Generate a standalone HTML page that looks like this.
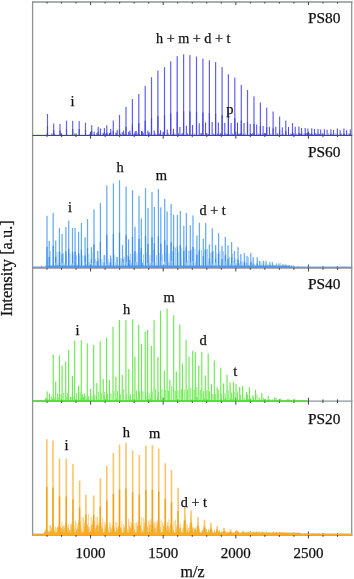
<!DOCTYPE html>
<html><head><meta charset="utf-8"><style>
html,body{margin:0;padding:0;background:#fff;}
svg{display:block;}
text{font-family:"Liberation Serif",serif;fill:#111;stroke:#111;stroke-width:0.25px;}
</style></head><body>
<svg width="354" height="579" viewBox="0 0 354 579">
<rect width="354" height="579" fill="#fff"/>
<g>
<line x1="32" y1="2.00" x2="352.5" y2="2.00" stroke="#8c9496" stroke-width="1.3"/>
<line x1="32" y1="135.30" x2="352.5" y2="135.30" stroke="#8c9496" stroke-width="1.3"/>
<line x1="32" y1="268.00" x2="352.5" y2="268.00" stroke="#8c9496" stroke-width="1.3"/>
<line x1="32" y1="401.20" x2="352.5" y2="401.20" stroke="#8c9496" stroke-width="1.3"/>
<line x1="32" y1="535.00" x2="352.5" y2="535.00" stroke="#8c9496" stroke-width="1.3"/>
<line x1="32.6" y1="1.4" x2="32.6" y2="535.6" stroke="#8c9496" stroke-width="1.3"/>
<line x1="351.7" y1="1.4" x2="351.7" y2="535.6" stroke="#8c9496" stroke-width="1.3"/>
<line x1="47.02" y1="2.00" x2="47.02" y2="3.60" stroke="#3c4450" stroke-width="1"/>
<line x1="47.02" y1="133.50" x2="47.02" y2="137.10" stroke="#3c4450" stroke-width="1"/>
<line x1="47.02" y1="266.20" x2="47.02" y2="269.80" stroke="#3c4450" stroke-width="1"/>
<line x1="47.02" y1="399.40" x2="47.02" y2="403.00" stroke="#3c4450" stroke-width="1"/>
<line x1="47.02" y1="533.20" x2="47.02" y2="536.80" stroke="#3c4450" stroke-width="1"/>
<line x1="61.55" y1="2.00" x2="61.55" y2="3.60" stroke="#3c4450" stroke-width="1"/>
<line x1="61.55" y1="133.50" x2="61.55" y2="137.10" stroke="#3c4450" stroke-width="1"/>
<line x1="61.55" y1="266.20" x2="61.55" y2="269.80" stroke="#3c4450" stroke-width="1"/>
<line x1="61.55" y1="399.40" x2="61.55" y2="403.00" stroke="#3c4450" stroke-width="1"/>
<line x1="61.55" y1="533.20" x2="61.55" y2="536.80" stroke="#3c4450" stroke-width="1"/>
<line x1="76.07" y1="2.00" x2="76.07" y2="3.60" stroke="#3c4450" stroke-width="1"/>
<line x1="76.07" y1="133.50" x2="76.07" y2="137.10" stroke="#3c4450" stroke-width="1"/>
<line x1="76.07" y1="266.20" x2="76.07" y2="269.80" stroke="#3c4450" stroke-width="1"/>
<line x1="76.07" y1="399.40" x2="76.07" y2="403.00" stroke="#3c4450" stroke-width="1"/>
<line x1="76.07" y1="533.20" x2="76.07" y2="536.80" stroke="#3c4450" stroke-width="1"/>
<line x1="90.59" y1="2.00" x2="90.59" y2="5.00" stroke="#3c4450" stroke-width="1"/>
<line x1="90.59" y1="131.80" x2="90.59" y2="138.80" stroke="#3c4450" stroke-width="1"/>
<line x1="90.59" y1="264.50" x2="90.59" y2="271.50" stroke="#3c4450" stroke-width="1"/>
<line x1="90.59" y1="397.70" x2="90.59" y2="404.70" stroke="#3c4450" stroke-width="1"/>
<line x1="90.59" y1="531.50" x2="90.59" y2="538.50" stroke="#3c4450" stroke-width="1"/>
<line x1="105.11" y1="2.00" x2="105.11" y2="3.60" stroke="#3c4450" stroke-width="1"/>
<line x1="105.11" y1="133.50" x2="105.11" y2="137.10" stroke="#3c4450" stroke-width="1"/>
<line x1="105.11" y1="266.20" x2="105.11" y2="269.80" stroke="#3c4450" stroke-width="1"/>
<line x1="105.11" y1="399.40" x2="105.11" y2="403.00" stroke="#3c4450" stroke-width="1"/>
<line x1="105.11" y1="533.20" x2="105.11" y2="536.80" stroke="#3c4450" stroke-width="1"/>
<line x1="119.64" y1="2.00" x2="119.64" y2="3.60" stroke="#3c4450" stroke-width="1"/>
<line x1="119.64" y1="133.50" x2="119.64" y2="137.10" stroke="#3c4450" stroke-width="1"/>
<line x1="119.64" y1="266.20" x2="119.64" y2="269.80" stroke="#3c4450" stroke-width="1"/>
<line x1="119.64" y1="399.40" x2="119.64" y2="403.00" stroke="#3c4450" stroke-width="1"/>
<line x1="119.64" y1="533.20" x2="119.64" y2="536.80" stroke="#3c4450" stroke-width="1"/>
<line x1="134.16" y1="2.00" x2="134.16" y2="3.60" stroke="#3c4450" stroke-width="1"/>
<line x1="134.16" y1="133.50" x2="134.16" y2="137.10" stroke="#3c4450" stroke-width="1"/>
<line x1="134.16" y1="266.20" x2="134.16" y2="269.80" stroke="#3c4450" stroke-width="1"/>
<line x1="134.16" y1="399.40" x2="134.16" y2="403.00" stroke="#3c4450" stroke-width="1"/>
<line x1="134.16" y1="533.20" x2="134.16" y2="536.80" stroke="#3c4450" stroke-width="1"/>
<line x1="148.68" y1="2.00" x2="148.68" y2="3.60" stroke="#3c4450" stroke-width="1"/>
<line x1="148.68" y1="133.50" x2="148.68" y2="137.10" stroke="#3c4450" stroke-width="1"/>
<line x1="148.68" y1="266.20" x2="148.68" y2="269.80" stroke="#3c4450" stroke-width="1"/>
<line x1="148.68" y1="399.40" x2="148.68" y2="403.00" stroke="#3c4450" stroke-width="1"/>
<line x1="148.68" y1="533.20" x2="148.68" y2="536.80" stroke="#3c4450" stroke-width="1"/>
<line x1="163.20" y1="2.00" x2="163.20" y2="5.00" stroke="#3c4450" stroke-width="1"/>
<line x1="163.20" y1="131.80" x2="163.20" y2="138.80" stroke="#3c4450" stroke-width="1"/>
<line x1="163.20" y1="264.50" x2="163.20" y2="271.50" stroke="#3c4450" stroke-width="1"/>
<line x1="163.20" y1="397.70" x2="163.20" y2="404.70" stroke="#3c4450" stroke-width="1"/>
<line x1="163.20" y1="531.50" x2="163.20" y2="538.50" stroke="#3c4450" stroke-width="1"/>
<line x1="177.73" y1="2.00" x2="177.73" y2="3.60" stroke="#3c4450" stroke-width="1"/>
<line x1="177.73" y1="133.50" x2="177.73" y2="137.10" stroke="#3c4450" stroke-width="1"/>
<line x1="177.73" y1="266.20" x2="177.73" y2="269.80" stroke="#3c4450" stroke-width="1"/>
<line x1="177.73" y1="399.40" x2="177.73" y2="403.00" stroke="#3c4450" stroke-width="1"/>
<line x1="177.73" y1="533.20" x2="177.73" y2="536.80" stroke="#3c4450" stroke-width="1"/>
<line x1="192.25" y1="2.00" x2="192.25" y2="3.60" stroke="#3c4450" stroke-width="1"/>
<line x1="192.25" y1="133.50" x2="192.25" y2="137.10" stroke="#3c4450" stroke-width="1"/>
<line x1="192.25" y1="266.20" x2="192.25" y2="269.80" stroke="#3c4450" stroke-width="1"/>
<line x1="192.25" y1="399.40" x2="192.25" y2="403.00" stroke="#3c4450" stroke-width="1"/>
<line x1="192.25" y1="533.20" x2="192.25" y2="536.80" stroke="#3c4450" stroke-width="1"/>
<line x1="206.77" y1="2.00" x2="206.77" y2="3.60" stroke="#3c4450" stroke-width="1"/>
<line x1="206.77" y1="133.50" x2="206.77" y2="137.10" stroke="#3c4450" stroke-width="1"/>
<line x1="206.77" y1="266.20" x2="206.77" y2="269.80" stroke="#3c4450" stroke-width="1"/>
<line x1="206.77" y1="399.40" x2="206.77" y2="403.00" stroke="#3c4450" stroke-width="1"/>
<line x1="206.77" y1="533.20" x2="206.77" y2="536.80" stroke="#3c4450" stroke-width="1"/>
<line x1="221.30" y1="2.00" x2="221.30" y2="3.60" stroke="#3c4450" stroke-width="1"/>
<line x1="221.30" y1="133.50" x2="221.30" y2="137.10" stroke="#3c4450" stroke-width="1"/>
<line x1="221.30" y1="266.20" x2="221.30" y2="269.80" stroke="#3c4450" stroke-width="1"/>
<line x1="221.30" y1="399.40" x2="221.30" y2="403.00" stroke="#3c4450" stroke-width="1"/>
<line x1="221.30" y1="533.20" x2="221.30" y2="536.80" stroke="#3c4450" stroke-width="1"/>
<line x1="235.82" y1="2.00" x2="235.82" y2="5.00" stroke="#3c4450" stroke-width="1"/>
<line x1="235.82" y1="131.80" x2="235.82" y2="138.80" stroke="#3c4450" stroke-width="1"/>
<line x1="235.82" y1="264.50" x2="235.82" y2="271.50" stroke="#3c4450" stroke-width="1"/>
<line x1="235.82" y1="397.70" x2="235.82" y2="404.70" stroke="#3c4450" stroke-width="1"/>
<line x1="235.82" y1="531.50" x2="235.82" y2="538.50" stroke="#3c4450" stroke-width="1"/>
<line x1="250.34" y1="2.00" x2="250.34" y2="3.60" stroke="#3c4450" stroke-width="1"/>
<line x1="250.34" y1="133.50" x2="250.34" y2="137.10" stroke="#3c4450" stroke-width="1"/>
<line x1="250.34" y1="266.20" x2="250.34" y2="269.80" stroke="#3c4450" stroke-width="1"/>
<line x1="250.34" y1="399.40" x2="250.34" y2="403.00" stroke="#3c4450" stroke-width="1"/>
<line x1="250.34" y1="533.20" x2="250.34" y2="536.80" stroke="#3c4450" stroke-width="1"/>
<line x1="264.86" y1="2.00" x2="264.86" y2="3.60" stroke="#3c4450" stroke-width="1"/>
<line x1="264.86" y1="133.50" x2="264.86" y2="137.10" stroke="#3c4450" stroke-width="1"/>
<line x1="264.86" y1="266.20" x2="264.86" y2="269.80" stroke="#3c4450" stroke-width="1"/>
<line x1="264.86" y1="399.40" x2="264.86" y2="403.00" stroke="#3c4450" stroke-width="1"/>
<line x1="264.86" y1="533.20" x2="264.86" y2="536.80" stroke="#3c4450" stroke-width="1"/>
<line x1="279.39" y1="2.00" x2="279.39" y2="3.60" stroke="#3c4450" stroke-width="1"/>
<line x1="279.39" y1="133.50" x2="279.39" y2="137.10" stroke="#3c4450" stroke-width="1"/>
<line x1="279.39" y1="266.20" x2="279.39" y2="269.80" stroke="#3c4450" stroke-width="1"/>
<line x1="279.39" y1="399.40" x2="279.39" y2="403.00" stroke="#3c4450" stroke-width="1"/>
<line x1="279.39" y1="533.20" x2="279.39" y2="536.80" stroke="#3c4450" stroke-width="1"/>
<line x1="293.91" y1="2.00" x2="293.91" y2="3.60" stroke="#3c4450" stroke-width="1"/>
<line x1="293.91" y1="133.50" x2="293.91" y2="137.10" stroke="#3c4450" stroke-width="1"/>
<line x1="293.91" y1="266.20" x2="293.91" y2="269.80" stroke="#3c4450" stroke-width="1"/>
<line x1="293.91" y1="399.40" x2="293.91" y2="403.00" stroke="#3c4450" stroke-width="1"/>
<line x1="293.91" y1="533.20" x2="293.91" y2="536.80" stroke="#3c4450" stroke-width="1"/>
<line x1="308.43" y1="2.00" x2="308.43" y2="5.00" stroke="#3c4450" stroke-width="1"/>
<line x1="308.43" y1="131.80" x2="308.43" y2="138.80" stroke="#3c4450" stroke-width="1"/>
<line x1="308.43" y1="264.50" x2="308.43" y2="271.50" stroke="#3c4450" stroke-width="1"/>
<line x1="308.43" y1="397.70" x2="308.43" y2="404.70" stroke="#3c4450" stroke-width="1"/>
<line x1="308.43" y1="531.50" x2="308.43" y2="538.50" stroke="#3c4450" stroke-width="1"/>
<line x1="322.95" y1="2.00" x2="322.95" y2="3.60" stroke="#3c4450" stroke-width="1"/>
<line x1="322.95" y1="133.50" x2="322.95" y2="137.10" stroke="#3c4450" stroke-width="1"/>
<line x1="322.95" y1="266.20" x2="322.95" y2="269.80" stroke="#3c4450" stroke-width="1"/>
<line x1="322.95" y1="399.40" x2="322.95" y2="403.00" stroke="#3c4450" stroke-width="1"/>
<line x1="322.95" y1="533.20" x2="322.95" y2="536.80" stroke="#3c4450" stroke-width="1"/>
<line x1="337.48" y1="2.00" x2="337.48" y2="3.60" stroke="#3c4450" stroke-width="1"/>
<line x1="337.48" y1="133.50" x2="337.48" y2="137.10" stroke="#3c4450" stroke-width="1"/>
<line x1="337.48" y1="266.20" x2="337.48" y2="269.80" stroke="#3c4450" stroke-width="1"/>
<line x1="337.48" y1="399.40" x2="337.48" y2="403.00" stroke="#3c4450" stroke-width="1"/>
<line x1="337.48" y1="533.20" x2="337.48" y2="536.80" stroke="#3c4450" stroke-width="1"/>
</g>
<g>
<rect x="46.92" y="114.00" width="1.15" height="21.60" fill="#6262f0"/>
<rect x="46.95" y="125.88" width="1.10" height="9.72" fill="#4444ec"/>
<rect x="53.12" y="123.40" width="1.15" height="12.20" fill="#6262f0"/>
<rect x="53.15" y="130.11" width="1.10" height="5.49" fill="#4444ec"/>
<rect x="59.42" y="123.90" width="1.15" height="11.70" fill="#6262f0"/>
<rect x="59.45" y="130.34" width="1.10" height="5.26" fill="#4444ec"/>
<rect x="65.92" y="120.60" width="1.15" height="15.00" fill="#6262f0"/>
<rect x="65.95" y="128.85" width="1.10" height="6.75" fill="#4444ec"/>
<rect x="72.12" y="120.80" width="1.15" height="14.80" fill="#6262f0"/>
<rect x="72.15" y="128.94" width="1.10" height="6.66" fill="#4444ec"/>
<rect x="78.62" y="121.20" width="1.15" height="14.40" fill="#6262f0"/>
<rect x="78.65" y="129.12" width="1.10" height="6.48" fill="#4444ec"/>
<rect x="84.92" y="122.70" width="1.15" height="12.90" fill="#6262f0"/>
<rect x="84.95" y="129.79" width="1.10" height="5.81" fill="#4444ec"/>
<rect x="91.12" y="125.10" width="1.15" height="10.50" fill="#6262f0"/>
<rect x="91.15" y="130.88" width="1.10" height="4.72" fill="#4444ec"/>
<rect x="97.62" y="126.80" width="1.15" height="8.80" fill="#6262f0"/>
<rect x="97.65" y="131.64" width="1.10" height="3.96" fill="#4444ec"/>
<rect x="103.83" y="128.00" width="1.15" height="7.60" fill="#6262f0"/>
<rect x="103.85" y="132.18" width="1.10" height="3.42" fill="#4444ec"/>
<rect x="110.12" y="129.00" width="1.15" height="6.60" fill="#6262f0"/>
<rect x="110.15" y="132.63" width="1.10" height="2.97" fill="#4444ec"/>
<rect x="116.62" y="129.80" width="1.15" height="5.80" fill="#6262f0"/>
<rect x="116.65" y="132.99" width="1.10" height="2.61" fill="#4444ec"/>
<rect x="122.92" y="130.50" width="1.15" height="5.10" fill="#6262f0"/>
<rect x="122.95" y="133.31" width="1.10" height="2.29" fill="#4444ec"/>
<rect x="129.33" y="130.50" width="1.15" height="5.10" fill="#6262f0"/>
<rect x="129.35" y="133.31" width="1.10" height="2.29" fill="#4444ec"/>
<rect x="135.62" y="130.90" width="1.15" height="4.70" fill="#6262f0"/>
<rect x="135.65" y="133.49" width="1.10" height="2.11" fill="#4444ec"/>
<rect x="142.03" y="131.50" width="1.15" height="4.10" fill="#6262f0"/>
<rect x="142.05" y="133.75" width="1.10" height="1.84" fill="#4444ec"/>
<rect x="148.43" y="132.00" width="1.15" height="3.60" fill="#6262f0"/>
<rect x="148.45" y="133.98" width="1.10" height="1.62" fill="#4444ec"/>
<rect x="93.60" y="131.60" width="1.20" height="4.00" fill="#6262f0"/>
<rect x="93.62" y="134.40" width="1.15" height="1.20" fill="#4444ec"/>
<rect x="99.80" y="128.40" width="1.20" height="7.20" fill="#6262f0"/>
<rect x="99.83" y="133.44" width="1.15" height="2.16" fill="#4444ec"/>
<rect x="106.20" y="125.30" width="1.20" height="10.30" fill="#6262f0"/>
<rect x="106.22" y="132.51" width="1.15" height="3.09" fill="#4444ec"/>
<rect x="112.70" y="120.50" width="1.20" height="15.10" fill="#6262f0"/>
<rect x="112.72" y="131.07" width="1.15" height="4.53" fill="#4444ec"/>
<rect x="118.90" y="114.90" width="1.20" height="20.70" fill="#6262f0"/>
<rect x="118.92" y="129.39" width="1.15" height="6.21" fill="#4444ec"/>
<rect x="125.40" y="107.00" width="1.20" height="28.60" fill="#6262f0"/>
<rect x="125.42" y="127.02" width="1.15" height="8.58" fill="#4444ec"/>
<rect x="131.80" y="99.00" width="1.20" height="36.60" fill="#6262f0"/>
<rect x="131.83" y="124.62" width="1.15" height="10.98" fill="#4444ec"/>
<rect x="138.20" y="94.00" width="1.20" height="41.60" fill="#6262f0"/>
<rect x="138.23" y="123.12" width="1.15" height="12.48" fill="#4444ec"/>
<rect x="144.60" y="85.90" width="1.20" height="49.70" fill="#6262f0"/>
<rect x="144.62" y="120.69" width="1.15" height="14.91" fill="#4444ec"/>
<rect x="150.90" y="77.20" width="1.20" height="58.40" fill="#6262f0"/>
<rect x="150.93" y="118.08" width="1.15" height="17.52" fill="#4444ec"/>
<rect x="157.30" y="70.60" width="1.20" height="65.00" fill="#6262f0"/>
<rect x="157.33" y="116.10" width="1.15" height="19.50" fill="#4444ec"/>
<rect x="163.90" y="67.10" width="1.20" height="68.50" fill="#6262f0"/>
<rect x="163.93" y="115.05" width="1.15" height="20.55" fill="#4444ec"/>
<rect x="170.10" y="61.40" width="1.20" height="74.20" fill="#6262f0"/>
<rect x="170.12" y="113.34" width="1.15" height="22.26" fill="#4444ec"/>
<rect x="176.60" y="56.10" width="1.20" height="79.50" fill="#6262f0"/>
<rect x="176.62" y="111.75" width="1.15" height="23.85" fill="#4444ec"/>
<rect x="183.00" y="54.40" width="1.20" height="81.20" fill="#6262f0"/>
<rect x="183.03" y="111.24" width="1.15" height="24.36" fill="#4444ec"/>
<rect x="189.30" y="55.10" width="1.20" height="80.50" fill="#6262f0"/>
<rect x="189.33" y="111.45" width="1.15" height="24.15" fill="#4444ec"/>
<rect x="195.90" y="56.50" width="1.20" height="79.10" fill="#6262f0"/>
<rect x="195.93" y="111.87" width="1.15" height="23.73" fill="#4444ec"/>
<rect x="202.30" y="58.60" width="1.20" height="77.00" fill="#6262f0"/>
<rect x="202.33" y="112.50" width="1.15" height="23.10" fill="#4444ec"/>
<rect x="208.80" y="60.30" width="1.20" height="75.30" fill="#6262f0"/>
<rect x="208.83" y="113.01" width="1.15" height="22.59" fill="#4444ec"/>
<rect x="215.00" y="62.10" width="1.20" height="73.50" fill="#6262f0"/>
<rect x="215.03" y="113.55" width="1.15" height="22.05" fill="#4444ec"/>
<rect x="221.50" y="67.10" width="1.20" height="68.50" fill="#6262f0"/>
<rect x="221.53" y="115.05" width="1.15" height="20.55" fill="#4444ec"/>
<rect x="227.80" y="74.20" width="1.20" height="61.40" fill="#6262f0"/>
<rect x="227.83" y="117.18" width="1.15" height="18.42" fill="#4444ec"/>
<rect x="234.20" y="77.60" width="1.20" height="58.00" fill="#6262f0"/>
<rect x="234.23" y="118.20" width="1.15" height="17.40" fill="#4444ec"/>
<rect x="240.70" y="84.90" width="1.20" height="50.70" fill="#6262f0"/>
<rect x="240.73" y="120.39" width="1.15" height="15.21" fill="#4444ec"/>
<rect x="246.90" y="90.00" width="1.20" height="45.60" fill="#6262f0"/>
<rect x="246.93" y="121.92" width="1.15" height="13.68" fill="#4444ec"/>
<rect x="253.40" y="96.30" width="1.20" height="39.30" fill="#6262f0"/>
<rect x="253.43" y="123.81" width="1.15" height="11.79" fill="#4444ec"/>
<rect x="259.80" y="102.50" width="1.20" height="33.10" fill="#6262f0"/>
<rect x="259.82" y="125.67" width="1.15" height="9.93" fill="#4444ec"/>
<rect x="266.10" y="107.60" width="1.20" height="28.00" fill="#6262f0"/>
<rect x="266.12" y="127.20" width="1.15" height="8.40" fill="#4444ec"/>
<rect x="272.50" y="111.50" width="1.20" height="24.10" fill="#6262f0"/>
<rect x="272.53" y="128.37" width="1.15" height="7.23" fill="#4444ec"/>
<rect x="279.00" y="116.60" width="1.20" height="19.00" fill="#6262f0"/>
<rect x="279.03" y="129.90" width="1.15" height="5.70" fill="#4444ec"/>
<rect x="285.20" y="120.60" width="1.20" height="15.00" fill="#6262f0"/>
<rect x="285.23" y="131.10" width="1.15" height="4.50" fill="#4444ec"/>
<rect x="291.90" y="123.10" width="1.20" height="12.50" fill="#6262f0"/>
<rect x="291.93" y="131.85" width="1.15" height="3.75" fill="#4444ec"/>
<rect x="298.30" y="126.50" width="1.20" height="9.10" fill="#6262f0"/>
<rect x="298.32" y="132.87" width="1.15" height="2.73" fill="#4444ec"/>
<rect x="304.60" y="128.00" width="1.20" height="7.60" fill="#6262f0"/>
<rect x="304.62" y="133.32" width="1.15" height="2.28" fill="#4444ec"/>
<rect x="311.10" y="128.30" width="1.20" height="7.30" fill="#6262f0"/>
<rect x="311.12" y="133.41" width="1.15" height="2.19" fill="#4444ec"/>
<rect x="317.40" y="129.00" width="1.20" height="6.60" fill="#6262f0"/>
<rect x="317.43" y="133.62" width="1.15" height="1.98" fill="#4444ec"/>
<rect x="323.80" y="129.30" width="1.20" height="6.30" fill="#6262f0"/>
<rect x="323.82" y="133.71" width="1.15" height="1.89" fill="#4444ec"/>
<rect x="330.30" y="129.30" width="1.20" height="6.30" fill="#6262f0"/>
<rect x="330.32" y="133.71" width="1.15" height="1.89" fill="#4444ec"/>
<rect x="336.80" y="128.50" width="1.20" height="7.10" fill="#6262f0"/>
<rect x="336.82" y="133.47" width="1.15" height="2.13" fill="#4444ec"/>
<rect x="343.30" y="128.50" width="1.20" height="7.10" fill="#6262f0"/>
<rect x="343.32" y="133.47" width="1.15" height="2.13" fill="#4444ec"/>
<rect x="349.70" y="129.50" width="1.20" height="6.10" fill="#6262f0"/>
<rect x="349.73" y="133.77" width="1.15" height="1.83" fill="#4444ec"/>
<rect x="96.40" y="133.00" width="1.00" height="2.60" fill="#4444ec"/>
<rect x="102.60" y="133.00" width="1.00" height="2.60" fill="#4444ec"/>
<rect x="109.00" y="133.00" width="1.00" height="2.60" fill="#4444ec"/>
<rect x="115.50" y="132.60" width="1.00" height="3.00" fill="#4444ec"/>
<rect x="121.70" y="132.19" width="1.00" height="3.41" fill="#4444ec"/>
<rect x="128.20" y="131.75" width="1.00" height="3.85" fill="#4444ec"/>
<rect x="134.60" y="131.33" width="1.00" height="4.27" fill="#4444ec"/>
<rect x="141.00" y="130.95" width="1.00" height="4.65" fill="#4444ec"/>
<rect x="147.40" y="130.72" width="1.00" height="4.88" fill="#4444ec"/>
<rect x="153.70" y="130.50" width="1.00" height="5.10" fill="#4444ec"/>
<rect x="160.10" y="130.23" width="1.00" height="5.37" fill="#4444ec"/>
<rect x="166.70" y="129.48" width="1.00" height="6.12" fill="#4444ec"/>
<rect x="172.90" y="128.78" width="1.00" height="6.82" fill="#4444ec"/>
<rect x="179.40" y="126.90" width="1.00" height="8.70" fill="#4444ec"/>
<rect x="185.80" y="125.69" width="1.00" height="9.91" fill="#4444ec"/>
<rect x="192.10" y="125.00" width="1.00" height="10.60" fill="#4444ec"/>
<rect x="198.70" y="123.30" width="1.00" height="12.30" fill="#4444ec"/>
<rect x="205.10" y="122.51" width="1.00" height="13.09" fill="#4444ec"/>
<rect x="211.60" y="122.00" width="1.00" height="13.60" fill="#4444ec"/>
<rect x="217.80" y="122.47" width="1.00" height="13.13" fill="#4444ec"/>
<rect x="224.30" y="122.78" width="1.00" height="12.82" fill="#4444ec"/>
<rect x="230.60" y="122.89" width="1.00" height="12.71" fill="#4444ec"/>
<rect x="237.00" y="122.50" width="1.00" height="13.10" fill="#4444ec"/>
<rect x="243.50" y="123.00" width="1.00" height="12.60" fill="#4444ec"/>
<rect x="249.70" y="123.87" width="1.00" height="11.73" fill="#4444ec"/>
<rect x="256.20" y="124.59" width="1.00" height="11.01" fill="#4444ec"/>
<rect x="262.60" y="126.01" width="1.00" height="9.59" fill="#4444ec"/>
<rect x="268.90" y="126.80" width="1.00" height="8.80" fill="#4444ec"/>
<rect x="275.30" y="126.80" width="1.00" height="8.80" fill="#4444ec"/>
<rect x="281.80" y="127.30" width="1.00" height="8.30" fill="#4444ec"/>
<rect x="288.00" y="127.00" width="1.00" height="8.60" fill="#4444ec"/>
<rect x="294.70" y="126.76" width="1.00" height="8.84" fill="#4444ec"/>
<rect x="301.10" y="128.03" width="1.00" height="7.57" fill="#4444ec"/>
<rect x="307.40" y="128.53" width="1.00" height="7.07" fill="#4444ec"/>
<rect x="313.90" y="129.05" width="1.00" height="6.55" fill="#4444ec"/>
<rect x="320.20" y="129.52" width="1.00" height="6.08" fill="#4444ec"/>
<rect x="326.60" y="129.72" width="1.00" height="5.88" fill="#4444ec"/>
<rect x="333.10" y="129.93" width="1.00" height="5.67" fill="#4444ec"/>
<rect x="339.60" y="130.13" width="1.00" height="5.47" fill="#4444ec"/>
<rect x="346.10" y="130.33" width="1.00" height="5.27" fill="#4444ec"/>
<rect x="104.10" y="133.40" width="1.00" height="2.20" fill="#8a8af4"/>
<rect x="110.60" y="133.40" width="1.00" height="2.20" fill="#8a8af4"/>
<rect x="116.80" y="133.40" width="1.00" height="2.20" fill="#8a8af4"/>
<rect x="123.30" y="133.40" width="1.00" height="2.20" fill="#8a8af4"/>
<rect x="129.70" y="133.40" width="1.00" height="2.20" fill="#8a8af4"/>
<rect x="136.10" y="133.40" width="1.00" height="2.20" fill="#8a8af4"/>
<rect x="142.50" y="133.40" width="1.00" height="2.20" fill="#8a8af4"/>
<rect x="148.80" y="133.40" width="1.00" height="2.20" fill="#8a8af4"/>
<rect x="155.20" y="133.40" width="1.00" height="2.20" fill="#8a8af4"/>
<rect x="161.80" y="133.40" width="1.00" height="2.20" fill="#8a8af4"/>
<rect x="168.00" y="133.40" width="1.00" height="2.20" fill="#8a8af4"/>
<rect x="174.50" y="133.40" width="1.00" height="2.20" fill="#8a8af4"/>
<rect x="180.90" y="133.40" width="1.00" height="2.20" fill="#8a8af4"/>
<rect x="187.20" y="133.40" width="1.00" height="2.20" fill="#8a8af4"/>
<rect x="193.80" y="133.40" width="1.00" height="2.20" fill="#8a8af4"/>
<rect x="200.20" y="133.40" width="1.00" height="2.20" fill="#8a8af4"/>
<rect x="206.70" y="133.40" width="1.00" height="2.20" fill="#8a8af4"/>
<rect x="212.90" y="133.40" width="1.00" height="2.20" fill="#8a8af4"/>
<rect x="219.40" y="133.40" width="1.00" height="2.20" fill="#8a8af4"/>
<rect x="225.70" y="133.40" width="1.00" height="2.20" fill="#8a8af4"/>
<rect x="232.10" y="133.40" width="1.00" height="2.20" fill="#8a8af4"/>
<rect x="238.60" y="133.40" width="1.00" height="2.20" fill="#8a8af4"/>
<rect x="244.80" y="133.40" width="1.00" height="2.20" fill="#8a8af4"/>
<rect x="251.30" y="133.40" width="1.00" height="2.20" fill="#8a8af4"/>
<rect x="257.70" y="133.40" width="1.00" height="2.20" fill="#8a8af4"/>
<rect x="264.00" y="133.40" width="1.00" height="2.20" fill="#8a8af4"/>
<rect x="270.40" y="133.40" width="1.00" height="2.20" fill="#8a8af4"/>
<rect x="276.90" y="133.40" width="1.00" height="2.20" fill="#8a8af4"/>
<rect x="283.10" y="133.40" width="1.00" height="2.20" fill="#8a8af4"/>
<rect x="289.80" y="133.40" width="1.00" height="2.20" fill="#8a8af4"/>
<rect x="296.20" y="133.40" width="1.00" height="2.20" fill="#8a8af4"/>
<rect x="302.50" y="133.40" width="1.00" height="2.20" fill="#8a8af4"/>
<rect x="309.00" y="133.40" width="1.00" height="2.20" fill="#8a8af4"/>
<rect x="315.30" y="133.40" width="1.00" height="2.20" fill="#8a8af4"/>
<rect x="321.70" y="133.40" width="1.00" height="2.20" fill="#8a8af4"/>
<rect x="328.20" y="133.40" width="1.00" height="2.20" fill="#8a8af4"/>
<rect x="334.70" y="133.40" width="1.00" height="2.20" fill="#8a8af4"/>
<rect x="341.20" y="133.40" width="1.00" height="2.20" fill="#8a8af4"/>
<rect x="347.60" y="133.40" width="1.00" height="2.20" fill="#8a8af4"/>
<rect x="119.70" y="133.64" width="0.80" height="1.96" fill="#4444ec"/>
<rect x="159.70" y="133.55" width="0.80" height="2.05" fill="#4444ec"/>
<rect x="237.19" y="134.31" width="0.80" height="1.29" fill="#4444ec"/>
<rect x="51.59" y="133.23" width="0.80" height="2.37" fill="#4444ec"/>
<rect x="126.18" y="134.07" width="0.80" height="1.53" fill="#4444ec"/>
<rect x="349.28" y="133.74" width="0.80" height="1.86" fill="#4444ec"/>
<rect x="301.05" y="133.73" width="0.80" height="1.87" fill="#4444ec"/>
<rect x="241.24" y="134.19" width="0.80" height="1.41" fill="#4444ec"/>
<rect x="239.96" y="133.18" width="0.80" height="2.42" fill="#4444ec"/>
<rect x="206.12" y="133.36" width="0.80" height="2.24" fill="#4444ec"/>
<rect x="251.04" y="134.31" width="0.80" height="1.29" fill="#4444ec"/>
<rect x="277.34" y="133.57" width="0.80" height="2.03" fill="#4444ec"/>
<rect x="138.88" y="134.36" width="0.80" height="1.24" fill="#4444ec"/>
<rect x="309.85" y="133.74" width="0.80" height="1.86" fill="#4444ec"/>
<rect x="265.40" y="133.17" width="0.80" height="2.43" fill="#4444ec"/>
<rect x="263.98" y="133.11" width="0.80" height="2.49" fill="#4444ec"/>
<rect x="167.27" y="133.28" width="0.80" height="2.32" fill="#4444ec"/>
<rect x="182.32" y="133.09" width="0.80" height="2.51" fill="#4444ec"/>
<rect x="313.90" y="134.26" width="0.80" height="1.34" fill="#4444ec"/>
<rect x="88.80" y="134.10" width="0.80" height="1.50" fill="#4444ec"/>
<rect x="340.14" y="133.79" width="0.80" height="1.81" fill="#4444ec"/>
<rect x="237.47" y="133.98" width="0.80" height="1.62" fill="#4444ec"/>
<rect x="201.29" y="133.86" width="0.80" height="1.74" fill="#4444ec"/>
<rect x="153.93" y="133.58" width="0.80" height="2.02" fill="#4444ec"/>
<rect x="224.63" y="133.13" width="0.80" height="2.47" fill="#4444ec"/>
<rect x="254.24" y="133.10" width="0.80" height="2.50" fill="#4444ec"/>
<rect x="307.09" y="133.01" width="0.80" height="2.59" fill="#4444ec"/>
<rect x="251.00" y="134.17" width="0.80" height="1.43" fill="#4444ec"/>
<rect x="308.37" y="133.05" width="0.80" height="2.55" fill="#4444ec"/>
<rect x="321.72" y="133.60" width="0.80" height="2.00" fill="#4444ec"/>
<rect x="263.89" y="134.10" width="0.80" height="1.50" fill="#4444ec"/>
<rect x="299.58" y="133.60" width="0.80" height="2.00" fill="#4444ec"/>
<rect x="133.94" y="134.31" width="0.80" height="1.29" fill="#4444ec"/>
<rect x="306.34" y="133.01" width="0.80" height="2.59" fill="#4444ec"/>
<rect x="74.42" y="133.28" width="0.80" height="2.32" fill="#4444ec"/>
<rect x="171.97" y="134.19" width="0.80" height="1.41" fill="#4444ec"/>
<rect x="136.65" y="133.32" width="0.80" height="2.28" fill="#4444ec"/>
<rect x="312.05" y="134.34" width="0.80" height="1.26" fill="#4444ec"/>
<rect x="233.80" y="134.34" width="0.80" height="1.26" fill="#4444ec"/>
<rect x="265.29" y="133.94" width="0.80" height="1.66" fill="#4444ec"/>
<rect x="314.51" y="133.03" width="0.80" height="2.57" fill="#4444ec"/>
<rect x="200.74" y="133.00" width="0.80" height="2.60" fill="#4444ec"/>
<rect x="141.43" y="134.29" width="0.80" height="1.31" fill="#4444ec"/>
<rect x="229.33" y="134.36" width="0.80" height="1.24" fill="#4444ec"/>
<rect x="107.41" y="133.83" width="0.80" height="1.77" fill="#4444ec"/>
<rect x="232.57" y="134.18" width="0.80" height="1.42" fill="#4444ec"/>
<rect x="60.46" y="133.19" width="0.80" height="2.41" fill="#4444ec"/>
<rect x="142.69" y="133.06" width="0.80" height="2.54" fill="#4444ec"/>
<rect x="319.29" y="133.87" width="0.80" height="1.73" fill="#4444ec"/>
<rect x="187.10" y="133.67" width="0.80" height="1.93" fill="#4444ec"/>
<rect x="242.70" y="133.57" width="0.80" height="2.03" fill="#4444ec"/>
<rect x="217.06" y="133.53" width="0.80" height="2.07" fill="#4444ec"/>
<rect x="332.61" y="133.69" width="0.80" height="1.91" fill="#4444ec"/>
<rect x="178.25" y="133.39" width="0.80" height="2.21" fill="#4444ec"/>
<rect x="119.60" y="133.98" width="0.80" height="1.62" fill="#4444ec"/>
<rect x="343.87" y="133.67" width="0.80" height="1.93" fill="#4444ec"/>
<rect x="213.77" y="134.38" width="0.80" height="1.22" fill="#4444ec"/>
<rect x="173.41" y="133.59" width="0.80" height="2.01" fill="#4444ec"/>
<rect x="53.68" y="133.54" width="0.80" height="2.06" fill="#4444ec"/>
<rect x="239.15" y="134.32" width="0.80" height="1.28" fill="#4444ec"/>
<rect x="237.68" y="133.75" width="0.80" height="1.85" fill="#4444ec"/>
<rect x="253.42" y="133.91" width="0.80" height="1.69" fill="#4444ec"/>
<rect x="261.81" y="133.37" width="0.80" height="2.23" fill="#4444ec"/>
<rect x="54.32" y="134.32" width="0.80" height="1.28" fill="#4444ec"/>
<rect x="252.43" y="133.05" width="0.80" height="2.55" fill="#4444ec"/>
<rect x="123.69" y="133.76" width="0.80" height="1.84" fill="#4444ec"/>
<rect x="227.18" y="133.95" width="0.80" height="1.65" fill="#4444ec"/>
<rect x="157.88" y="133.96" width="0.80" height="1.64" fill="#4444ec"/>
<rect x="159.45" y="133.57" width="0.80" height="2.03" fill="#4444ec"/>
<rect x="138.62" y="133.87" width="0.80" height="1.73" fill="#4444ec"/>
<rect x="281.60" y="134.36" width="0.80" height="1.24" fill="#4444ec"/>
<rect x="220.09" y="133.37" width="0.80" height="2.23" fill="#4444ec"/>
<rect x="141.54" y="134.09" width="0.80" height="1.51" fill="#4444ec"/>
<rect x="291.15" y="134.07" width="0.80" height="1.53" fill="#4444ec"/>
<rect x="104.38" y="133.79" width="0.80" height="1.81" fill="#4444ec"/>
<rect x="259.11" y="134.26" width="0.80" height="1.34" fill="#4444ec"/>
<rect x="145.16" y="133.93" width="0.80" height="1.67" fill="#4444ec"/>
<rect x="300.16" y="133.79" width="0.80" height="1.81" fill="#4444ec"/>
<rect x="306.83" y="134.16" width="0.80" height="1.44" fill="#4444ec"/>
<rect x="149.62" y="133.49" width="0.80" height="2.11" fill="#4444ec"/>
<rect x="315.72" y="133.77" width="0.80" height="1.83" fill="#4444ec"/>
<rect x="115.78" y="134.23" width="0.80" height="1.37" fill="#4444ec"/>
<rect x="208.08" y="134.13" width="0.80" height="1.47" fill="#4444ec"/>
<rect x="292.05" y="133.23" width="0.80" height="2.37" fill="#4444ec"/>
<rect x="103.23" y="134.01" width="0.80" height="1.59" fill="#4444ec"/>
<rect x="32.5" y="135.00" width="319.5" height="1.0" fill="#3838d8"/>
<rect x="46.75" y="259.68" width="0.90" height="7.92" fill="#9cc7f6"/>
<rect x="50.15" y="251.09" width="0.90" height="16.51" fill="#9cc7f6"/>
<rect x="53.25" y="253.32" width="0.90" height="14.28" fill="#9cc7f6"/>
<rect x="56.65" y="251.91" width="0.90" height="15.69" fill="#9cc7f6"/>
<rect x="59.65" y="251.79" width="0.90" height="15.81" fill="#9cc7f6"/>
<rect x="63.05" y="253.10" width="0.90" height="14.50" fill="#9cc7f6"/>
<rect x="66.25" y="256.43" width="0.90" height="11.17" fill="#9cc7f6"/>
<rect x="69.65" y="253.64" width="0.90" height="13.96" fill="#9cc7f6"/>
<rect x="72.65" y="254.39" width="0.90" height="13.21" fill="#9cc7f6"/>
<rect x="76.05" y="255.15" width="0.90" height="12.45" fill="#9cc7f6"/>
<rect x="78.95" y="255.46" width="0.90" height="12.14" fill="#9cc7f6"/>
<rect x="82.35" y="255.46" width="0.90" height="12.14" fill="#9cc7f6"/>
<rect x="85.05" y="258.52" width="0.90" height="9.08" fill="#9cc7f6"/>
<rect x="88.45" y="253.94" width="0.90" height="13.66" fill="#9cc7f6"/>
<rect x="91.55" y="253.03" width="0.90" height="14.57" fill="#9cc7f6"/>
<rect x="94.95" y="258.66" width="0.90" height="8.94" fill="#9cc7f6"/>
<rect x="97.95" y="258.28" width="0.90" height="9.32" fill="#9cc7f6"/>
<rect x="101.35" y="258.92" width="0.90" height="8.68" fill="#9cc7f6"/>
<rect x="104.35" y="255.61" width="0.90" height="11.99" fill="#9cc7f6"/>
<rect x="107.75" y="258.70" width="0.90" height="8.90" fill="#9cc7f6"/>
<rect x="110.95" y="258.56" width="0.90" height="9.04" fill="#9cc7f6"/>
<rect x="114.35" y="254.33" width="0.90" height="13.27" fill="#9cc7f6"/>
<rect x="117.05" y="257.47" width="0.90" height="10.13" fill="#9cc7f6"/>
<rect x="120.45" y="257.93" width="0.90" height="9.67" fill="#9cc7f6"/>
<rect x="123.65" y="256.57" width="0.90" height="11.03" fill="#9cc7f6"/>
<rect x="127.05" y="255.36" width="0.90" height="12.24" fill="#9cc7f6"/>
<rect x="130.05" y="253.68" width="0.90" height="13.92" fill="#9cc7f6"/>
<rect x="133.45" y="253.66" width="0.90" height="13.94" fill="#9cc7f6"/>
<rect x="136.55" y="252.66" width="0.90" height="14.94" fill="#9cc7f6"/>
<rect x="139.95" y="251.37" width="0.90" height="16.23" fill="#9cc7f6"/>
<rect x="143.05" y="254.18" width="0.90" height="13.42" fill="#9cc7f6"/>
<rect x="146.45" y="252.03" width="0.90" height="15.57" fill="#9cc7f6"/>
<rect x="149.55" y="254.86" width="0.90" height="12.74" fill="#9cc7f6"/>
<rect x="152.95" y="249.93" width="0.90" height="17.67" fill="#9cc7f6"/>
<rect x="155.95" y="254.78" width="0.90" height="12.82" fill="#9cc7f6"/>
<rect x="159.35" y="253.18" width="0.90" height="14.42" fill="#9cc7f6"/>
<rect x="162.25" y="254.27" width="0.90" height="13.33" fill="#9cc7f6"/>
<rect x="165.65" y="253.77" width="0.90" height="13.83" fill="#9cc7f6"/>
<rect x="168.65" y="253.49" width="0.90" height="14.11" fill="#9cc7f6"/>
<rect x="172.05" y="251.21" width="0.90" height="16.39" fill="#9cc7f6"/>
<rect x="174.95" y="247.54" width="0.90" height="20.06" fill="#9cc7f6"/>
<rect x="178.35" y="251.59" width="0.90" height="16.01" fill="#9cc7f6"/>
<rect x="181.35" y="247.94" width="0.90" height="19.66" fill="#9cc7f6"/>
<rect x="184.75" y="248.54" width="0.90" height="19.06" fill="#9cc7f6"/>
<rect x="187.85" y="250.56" width="0.90" height="17.04" fill="#9cc7f6"/>
<rect x="191.25" y="249.56" width="0.90" height="18.04" fill="#9cc7f6"/>
<rect x="194.45" y="248.74" width="0.90" height="18.86" fill="#9cc7f6"/>
<rect x="197.85" y="251.72" width="0.90" height="15.88" fill="#9cc7f6"/>
<rect x="200.85" y="249.87" width="0.90" height="17.73" fill="#9cc7f6"/>
<rect x="204.25" y="248.75" width="0.90" height="18.85" fill="#9cc7f6"/>
<rect x="206.95" y="248.62" width="0.90" height="18.98" fill="#9cc7f6"/>
<rect x="210.35" y="252.79" width="0.90" height="14.81" fill="#9cc7f6"/>
<rect x="213.15" y="250.90" width="0.90" height="16.70" fill="#9cc7f6"/>
<rect x="216.55" y="253.24" width="0.90" height="14.36" fill="#9cc7f6"/>
<rect x="219.55" y="251.11" width="0.90" height="16.49" fill="#9cc7f6"/>
<rect x="222.95" y="251.20" width="0.90" height="16.40" fill="#9cc7f6"/>
<rect x="225.55" y="254.01" width="0.90" height="13.59" fill="#9cc7f6"/>
<rect x="228.95" y="256.72" width="0.90" height="10.88" fill="#9cc7f6"/>
<rect x="231.95" y="253.75" width="0.90" height="13.85" fill="#9cc7f6"/>
<rect x="235.35" y="258.49" width="0.90" height="9.11" fill="#9cc7f6"/>
<rect x="238.35" y="260.17" width="0.90" height="7.43" fill="#9cc7f6"/>
<rect x="241.75" y="260.39" width="0.90" height="7.21" fill="#9cc7f6"/>
<rect x="244.55" y="261.19" width="0.90" height="6.41" fill="#9cc7f6"/>
<rect x="247.95" y="257.15" width="0.90" height="10.45" fill="#9cc7f6"/>
<rect x="250.75" y="261.57" width="0.90" height="6.03" fill="#9cc7f6"/>
<rect x="254.15" y="263.83" width="0.90" height="3.77" fill="#9cc7f6"/>
<rect x="257.15" y="259.70" width="0.90" height="7.90" fill="#9cc7f6"/>
<rect x="260.55" y="261.78" width="0.90" height="5.82" fill="#9cc7f6"/>
<rect x="263.55" y="262.21" width="0.90" height="5.39" fill="#9cc7f6"/>
<rect x="266.95" y="264.27" width="0.90" height="3.33" fill="#9cc7f6"/>
<rect x="269.95" y="264.10" width="0.90" height="3.50" fill="#9cc7f6"/>
<rect x="273.35" y="264.91" width="0.90" height="2.69" fill="#9cc7f6"/>
<rect x="276.35" y="267.18" width="0.90" height="0.42" fill="#9cc7f6"/>
<rect x="279.75" y="263.04" width="0.90" height="4.56" fill="#9cc7f6"/>
<rect x="282.75" y="263.73" width="0.90" height="3.87" fill="#9cc7f6"/>
<rect x="286.15" y="264.59" width="0.90" height="3.01" fill="#9cc7f6"/>
<rect x="289.15" y="264.95" width="0.90" height="2.65" fill="#9cc7f6"/>
<rect x="292.55" y="265.04" width="0.90" height="2.56" fill="#9cc7f6"/>
<rect x="48.58" y="241.00" width="1.25" height="26.60" fill="#66abf4"/>
<rect x="48.60" y="256.96" width="1.20" height="10.64" fill="#3a8fee"/>
<rect x="55.08" y="240.50" width="1.25" height="27.10" fill="#66abf4"/>
<rect x="55.10" y="256.76" width="1.20" height="10.84" fill="#3a8fee"/>
<rect x="61.48" y="233.90" width="1.25" height="33.70" fill="#66abf4"/>
<rect x="61.50" y="254.12" width="1.20" height="13.48" fill="#3a8fee"/>
<rect x="68.08" y="220.50" width="1.25" height="47.10" fill="#66abf4"/>
<rect x="68.10" y="248.76" width="1.20" height="18.84" fill="#3a8fee"/>
<rect x="74.47" y="228.00" width="1.25" height="39.60" fill="#66abf4"/>
<rect x="74.50" y="251.76" width="1.20" height="15.84" fill="#3a8fee"/>
<rect x="80.78" y="222.90" width="1.25" height="44.70" fill="#66abf4"/>
<rect x="80.80" y="249.72" width="1.20" height="17.88" fill="#3a8fee"/>
<rect x="86.88" y="219.00" width="1.25" height="48.60" fill="#66abf4"/>
<rect x="86.90" y="248.16" width="1.20" height="19.44" fill="#3a8fee"/>
<rect x="93.38" y="209.40" width="1.25" height="58.20" fill="#66abf4"/>
<rect x="93.40" y="244.32" width="1.20" height="23.28" fill="#3a8fee"/>
<rect x="99.78" y="202.90" width="1.25" height="64.70" fill="#66abf4"/>
<rect x="99.80" y="241.72" width="1.20" height="25.88" fill="#3a8fee"/>
<rect x="106.17" y="185.50" width="1.25" height="82.10" fill="#66abf4"/>
<rect x="106.20" y="234.76" width="1.20" height="32.84" fill="#3a8fee"/>
<rect x="112.78" y="183.40" width="1.25" height="84.20" fill="#66abf4"/>
<rect x="112.80" y="233.92" width="1.20" height="33.68" fill="#3a8fee"/>
<rect x="118.88" y="180.20" width="1.25" height="87.40" fill="#66abf4"/>
<rect x="118.90" y="232.64" width="1.20" height="34.96" fill="#3a8fee"/>
<rect x="125.47" y="186.50" width="1.25" height="81.10" fill="#66abf4"/>
<rect x="125.50" y="235.16" width="1.20" height="32.44" fill="#3a8fee"/>
<rect x="131.88" y="190.20" width="1.25" height="77.40" fill="#66abf4"/>
<rect x="131.90" y="236.64" width="1.20" height="30.96" fill="#3a8fee"/>
<rect x="138.38" y="195.80" width="1.25" height="71.80" fill="#66abf4"/>
<rect x="138.40" y="238.88" width="1.20" height="28.72" fill="#3a8fee"/>
<rect x="144.88" y="188.10" width="1.25" height="79.50" fill="#66abf4"/>
<rect x="144.90" y="235.80" width="1.20" height="31.80" fill="#3a8fee"/>
<rect x="151.38" y="191.90" width="1.25" height="75.70" fill="#66abf4"/>
<rect x="151.40" y="237.32" width="1.20" height="30.28" fill="#3a8fee"/>
<rect x="157.78" y="189.10" width="1.25" height="78.50" fill="#66abf4"/>
<rect x="157.80" y="236.20" width="1.20" height="31.40" fill="#3a8fee"/>
<rect x="164.07" y="199.00" width="1.25" height="68.60" fill="#66abf4"/>
<rect x="164.10" y="240.16" width="1.20" height="27.44" fill="#3a8fee"/>
<rect x="170.47" y="203.90" width="1.25" height="63.70" fill="#66abf4"/>
<rect x="170.50" y="242.12" width="1.20" height="25.48" fill="#3a8fee"/>
<rect x="176.78" y="214.90" width="1.25" height="52.70" fill="#66abf4"/>
<rect x="176.80" y="246.52" width="1.20" height="21.08" fill="#3a8fee"/>
<rect x="183.18" y="226.00" width="1.25" height="41.60" fill="#66abf4"/>
<rect x="183.20" y="250.96" width="1.20" height="16.64" fill="#3a8fee"/>
<rect x="189.68" y="225.30" width="1.25" height="42.30" fill="#66abf4"/>
<rect x="189.70" y="250.68" width="1.20" height="16.92" fill="#3a8fee"/>
<rect x="196.28" y="235.50" width="1.25" height="32.10" fill="#66abf4"/>
<rect x="196.30" y="254.76" width="1.20" height="12.84" fill="#3a8fee"/>
<rect x="202.68" y="238.70" width="1.25" height="28.90" fill="#66abf4"/>
<rect x="202.70" y="256.04" width="1.20" height="11.56" fill="#3a8fee"/>
<rect x="208.78" y="244.40" width="1.25" height="23.20" fill="#66abf4"/>
<rect x="208.80" y="258.32" width="1.20" height="9.28" fill="#3a8fee"/>
<rect x="214.97" y="245.00" width="1.25" height="22.60" fill="#66abf4"/>
<rect x="215.00" y="258.56" width="1.20" height="9.04" fill="#3a8fee"/>
<rect x="221.38" y="245.80" width="1.25" height="21.80" fill="#66abf4"/>
<rect x="221.40" y="258.88" width="1.20" height="8.72" fill="#3a8fee"/>
<rect x="227.38" y="245.30" width="1.25" height="22.30" fill="#66abf4"/>
<rect x="227.40" y="258.68" width="1.20" height="8.92" fill="#3a8fee"/>
<rect x="233.78" y="250.90" width="1.25" height="16.70" fill="#66abf4"/>
<rect x="233.80" y="260.92" width="1.20" height="6.68" fill="#3a8fee"/>
<rect x="240.18" y="254.00" width="1.25" height="13.60" fill="#66abf4"/>
<rect x="240.20" y="262.16" width="1.20" height="5.44" fill="#3a8fee"/>
<rect x="246.38" y="255.80" width="1.25" height="11.80" fill="#66abf4"/>
<rect x="246.40" y="262.88" width="1.20" height="4.72" fill="#3a8fee"/>
<rect x="252.57" y="257.20" width="1.25" height="10.40" fill="#66abf4"/>
<rect x="252.60" y="263.44" width="1.20" height="4.16" fill="#3a8fee"/>
<rect x="258.98" y="261.00" width="1.25" height="6.60" fill="#66abf4"/>
<rect x="259.00" y="264.96" width="1.20" height="2.64" fill="#3a8fee"/>
<rect x="265.38" y="260.70" width="1.25" height="6.90" fill="#66abf4"/>
<rect x="265.40" y="264.84" width="1.20" height="2.76" fill="#3a8fee"/>
<rect x="271.77" y="262.10" width="1.25" height="5.50" fill="#66abf4"/>
<rect x="271.80" y="265.40" width="1.20" height="2.20" fill="#3a8fee"/>
<rect x="278.18" y="263.50" width="1.25" height="4.10" fill="#66abf4"/>
<rect x="278.20" y="265.96" width="1.20" height="1.64" fill="#3a8fee"/>
<rect x="284.57" y="264.50" width="1.25" height="3.10" fill="#66abf4"/>
<rect x="284.60" y="266.36" width="1.20" height="1.24" fill="#3a8fee"/>
<rect x="290.98" y="265.50" width="1.25" height="2.10" fill="#66abf4"/>
<rect x="291.00" y="266.76" width="1.20" height="0.84" fill="#3a8fee"/>
<rect x="297.38" y="266.30" width="1.25" height="1.30" fill="#66abf4"/>
<rect x="297.40" y="267.08" width="1.20" height="0.52" fill="#3a8fee"/>
<rect x="121.88" y="244.90" width="1.25" height="22.70" fill="#66abf4"/>
<rect x="121.90" y="258.52" width="1.20" height="9.08" fill="#3a8fee"/>
<rect x="127.97" y="239.30" width="1.25" height="28.30" fill="#66abf4"/>
<rect x="128.00" y="256.28" width="1.20" height="11.32" fill="#3a8fee"/>
<rect x="134.38" y="226.80" width="1.25" height="40.80" fill="#66abf4"/>
<rect x="134.40" y="251.28" width="1.20" height="16.32" fill="#3a8fee"/>
<rect x="140.68" y="218.40" width="1.25" height="49.20" fill="#66abf4"/>
<rect x="140.70" y="247.92" width="1.20" height="19.68" fill="#3a8fee"/>
<rect x="147.38" y="207.90" width="1.25" height="59.70" fill="#66abf4"/>
<rect x="147.40" y="243.72" width="1.20" height="23.88" fill="#3a8fee"/>
<rect x="153.78" y="207.00" width="1.25" height="60.60" fill="#66abf4"/>
<rect x="153.80" y="243.36" width="1.20" height="24.24" fill="#3a8fee"/>
<rect x="160.18" y="207.40" width="1.25" height="60.20" fill="#66abf4"/>
<rect x="160.20" y="243.52" width="1.20" height="24.08" fill="#3a8fee"/>
<rect x="166.47" y="211.40" width="1.25" height="56.20" fill="#66abf4"/>
<rect x="166.50" y="245.12" width="1.20" height="22.48" fill="#3a8fee"/>
<rect x="172.97" y="214.90" width="1.25" height="52.70" fill="#66abf4"/>
<rect x="173.00" y="246.52" width="1.20" height="21.08" fill="#3a8fee"/>
<rect x="179.68" y="211.00" width="1.25" height="56.60" fill="#66abf4"/>
<rect x="179.70" y="244.96" width="1.20" height="22.64" fill="#3a8fee"/>
<rect x="185.78" y="213.00" width="1.25" height="54.60" fill="#66abf4"/>
<rect x="185.80" y="245.76" width="1.20" height="21.84" fill="#3a8fee"/>
<rect x="192.38" y="215.40" width="1.25" height="52.20" fill="#66abf4"/>
<rect x="192.40" y="246.72" width="1.20" height="20.88" fill="#3a8fee"/>
<rect x="198.78" y="222.80" width="1.25" height="44.80" fill="#66abf4"/>
<rect x="198.80" y="249.68" width="1.20" height="17.92" fill="#3a8fee"/>
<rect x="205.07" y="223.10" width="1.25" height="44.50" fill="#66abf4"/>
<rect x="205.10" y="249.80" width="1.20" height="17.80" fill="#3a8fee"/>
<rect x="211.68" y="228.30" width="1.25" height="39.30" fill="#66abf4"/>
<rect x="211.70" y="251.88" width="1.20" height="15.72" fill="#3a8fee"/>
<rect x="217.97" y="233.10" width="1.25" height="34.50" fill="#66abf4"/>
<rect x="218.00" y="253.80" width="1.20" height="13.80" fill="#3a8fee"/>
<rect x="224.68" y="237.00" width="1.25" height="30.60" fill="#66abf4"/>
<rect x="224.70" y="255.36" width="1.20" height="12.24" fill="#3a8fee"/>
<rect x="230.97" y="242.10" width="1.25" height="25.50" fill="#66abf4"/>
<rect x="231.00" y="257.40" width="1.20" height="10.20" fill="#3a8fee"/>
<rect x="237.38" y="247.20" width="1.25" height="20.40" fill="#66abf4"/>
<rect x="237.40" y="259.44" width="1.20" height="8.16" fill="#3a8fee"/>
<rect x="243.78" y="253.10" width="1.25" height="14.50" fill="#66abf4"/>
<rect x="243.80" y="261.80" width="1.20" height="5.80" fill="#3a8fee"/>
<rect x="250.18" y="253.00" width="1.25" height="14.60" fill="#66abf4"/>
<rect x="250.20" y="261.76" width="1.20" height="5.84" fill="#3a8fee"/>
<rect x="256.57" y="257.20" width="1.25" height="10.40" fill="#66abf4"/>
<rect x="256.60" y="263.44" width="1.20" height="4.16" fill="#3a8fee"/>
<rect x="262.68" y="260.70" width="1.25" height="6.90" fill="#66abf4"/>
<rect x="262.70" y="264.84" width="1.20" height="2.76" fill="#3a8fee"/>
<rect x="269.27" y="262.10" width="1.25" height="5.50" fill="#66abf4"/>
<rect x="269.30" y="265.40" width="1.20" height="2.20" fill="#3a8fee"/>
<rect x="275.68" y="263.50" width="1.25" height="4.10" fill="#66abf4"/>
<rect x="275.70" y="265.96" width="1.20" height="1.64" fill="#3a8fee"/>
<rect x="282.07" y="264.50" width="1.25" height="3.10" fill="#66abf4"/>
<rect x="282.10" y="266.36" width="1.20" height="1.24" fill="#3a8fee"/>
<rect x="288.48" y="265.50" width="1.25" height="2.10" fill="#66abf4"/>
<rect x="288.50" y="266.76" width="1.20" height="0.84" fill="#3a8fee"/>
<rect x="46.38" y="215.80" width="1.25" height="51.80" fill="#66abf4"/>
<rect x="46.40" y="246.88" width="1.20" height="20.72" fill="#3a8fee"/>
<rect x="52.58" y="212.80" width="1.25" height="54.80" fill="#66abf4"/>
<rect x="52.60" y="245.68" width="1.20" height="21.92" fill="#3a8fee"/>
<rect x="58.77" y="228.00" width="1.25" height="39.60" fill="#66abf4"/>
<rect x="58.80" y="251.76" width="1.20" height="15.84" fill="#3a8fee"/>
<rect x="65.28" y="227.00" width="1.25" height="40.60" fill="#66abf4"/>
<rect x="65.30" y="251.36" width="1.20" height="16.24" fill="#3a8fee"/>
<rect x="71.88" y="228.00" width="1.25" height="39.60" fill="#66abf4"/>
<rect x="71.90" y="251.76" width="1.20" height="15.84" fill="#3a8fee"/>
<rect x="77.97" y="231.80" width="1.25" height="35.80" fill="#66abf4"/>
<rect x="78.00" y="253.28" width="1.20" height="14.32" fill="#3a8fee"/>
<rect x="84.47" y="237.30" width="1.25" height="30.30" fill="#66abf4"/>
<rect x="84.50" y="255.48" width="1.20" height="12.12" fill="#3a8fee"/>
<rect x="90.78" y="247.20" width="1.25" height="20.40" fill="#66abf4"/>
<rect x="90.80" y="259.44" width="1.20" height="8.16" fill="#3a8fee"/>
<rect x="97.17" y="250.70" width="1.25" height="16.90" fill="#66abf4"/>
<rect x="97.20" y="260.84" width="1.20" height="6.76" fill="#3a8fee"/>
<rect x="103.58" y="255.00" width="1.25" height="12.60" fill="#66abf4"/>
<rect x="103.60" y="262.56" width="1.20" height="5.04" fill="#3a8fee"/>
<rect x="109.88" y="255.50" width="1.25" height="12.10" fill="#66abf4"/>
<rect x="109.90" y="262.76" width="1.20" height="4.84" fill="#3a8fee"/>
<rect x="116.28" y="257.00" width="1.25" height="10.60" fill="#66abf4"/>
<rect x="116.30" y="263.36" width="1.20" height="4.24" fill="#3a8fee"/>
<rect x="122.67" y="259.00" width="1.25" height="8.60" fill="#66abf4"/>
<rect x="122.70" y="264.16" width="1.20" height="3.44" fill="#3a8fee"/>
<rect x="129.07" y="260.00" width="1.25" height="7.60" fill="#66abf4"/>
<rect x="129.10" y="264.56" width="1.20" height="3.04" fill="#3a8fee"/>
<rect x="135.47" y="262.00" width="1.25" height="5.60" fill="#66abf4"/>
<rect x="135.50" y="265.36" width="1.20" height="2.24" fill="#3a8fee"/>
<rect x="141.88" y="262.50" width="1.25" height="5.10" fill="#66abf4"/>
<rect x="141.90" y="265.56" width="1.20" height="2.04" fill="#3a8fee"/>
<rect x="148.38" y="263.50" width="1.25" height="4.10" fill="#66abf4"/>
<rect x="148.40" y="265.96" width="1.20" height="1.64" fill="#3a8fee"/>
<rect x="61.94" y="263.20" width="0.90" height="4.40" fill="#9cc7f6"/>
<rect x="121.68" y="261.72" width="0.90" height="5.88" fill="#9cc7f6"/>
<rect x="130.89" y="262.63" width="0.90" height="4.97" fill="#9cc7f6"/>
<rect x="192.07" y="261.16" width="0.90" height="6.44" fill="#9cc7f6"/>
<rect x="89.23" y="262.18" width="0.90" height="5.42" fill="#9cc7f6"/>
<rect x="71.73" y="263.18" width="0.90" height="4.42" fill="#9cc7f6"/>
<rect x="225.72" y="262.45" width="0.90" height="5.15" fill="#9cc7f6"/>
<rect x="60.32" y="262.26" width="0.90" height="5.34" fill="#9cc7f6"/>
<rect x="136.60" y="262.44" width="0.90" height="5.16" fill="#9cc7f6"/>
<rect x="243.03" y="263.31" width="0.90" height="4.29" fill="#9cc7f6"/>
<rect x="247.85" y="264.28" width="0.90" height="3.32" fill="#9cc7f6"/>
<rect x="151.76" y="261.60" width="0.90" height="6.00" fill="#9cc7f6"/>
<rect x="168.55" y="262.42" width="0.90" height="5.18" fill="#9cc7f6"/>
<rect x="148.88" y="262.59" width="0.90" height="5.01" fill="#9cc7f6"/>
<rect x="159.37" y="261.14" width="0.90" height="6.46" fill="#9cc7f6"/>
<rect x="178.87" y="262.29" width="0.90" height="5.31" fill="#9cc7f6"/>
<rect x="58.16" y="263.04" width="0.90" height="4.56" fill="#9cc7f6"/>
<rect x="150.27" y="263.13" width="0.90" height="4.47" fill="#9cc7f6"/>
<rect x="283.04" y="265.88" width="0.90" height="1.72" fill="#9cc7f6"/>
<rect x="272.99" y="266.38" width="0.90" height="1.22" fill="#9cc7f6"/>
<rect x="107.72" y="262.31" width="0.90" height="5.29" fill="#9cc7f6"/>
<rect x="71.57" y="263.96" width="0.90" height="3.64" fill="#9cc7f6"/>
<rect x="211.75" y="263.27" width="0.90" height="4.33" fill="#9cc7f6"/>
<rect x="245.59" y="264.30" width="0.90" height="3.30" fill="#9cc7f6"/>
<rect x="230.32" y="263.23" width="0.90" height="4.37" fill="#9cc7f6"/>
<rect x="66.36" y="263.38" width="0.90" height="4.22" fill="#9cc7f6"/>
<rect x="40.82" y="265.19" width="0.90" height="2.41" fill="#9cc7f6"/>
<rect x="240.87" y="262.20" width="0.90" height="5.40" fill="#9cc7f6"/>
<rect x="63.42" y="261.97" width="0.90" height="5.63" fill="#9cc7f6"/>
<rect x="268.47" y="264.21" width="0.90" height="3.39" fill="#9cc7f6"/>
<rect x="45.66" y="264.52" width="0.90" height="3.08" fill="#9cc7f6"/>
<rect x="71.08" y="264.06" width="0.90" height="3.54" fill="#9cc7f6"/>
<rect x="214.67" y="263.26" width="0.90" height="4.34" fill="#9cc7f6"/>
<rect x="287.18" y="266.81" width="0.90" height="0.79" fill="#9cc7f6"/>
<rect x="247.22" y="262.49" width="0.90" height="5.11" fill="#9cc7f6"/>
<rect x="239.08" y="263.51" width="0.90" height="4.09" fill="#9cc7f6"/>
<rect x="225.49" y="261.62" width="0.90" height="5.98" fill="#9cc7f6"/>
<rect x="234.28" y="264.54" width="0.90" height="3.06" fill="#9cc7f6"/>
<rect x="55.45" y="262.79" width="0.90" height="4.81" fill="#9cc7f6"/>
<rect x="186.18" y="262.62" width="0.90" height="4.98" fill="#9cc7f6"/>
<rect x="102.50" y="261.51" width="0.90" height="6.09" fill="#9cc7f6"/>
<rect x="104.54" y="262.80" width="0.90" height="4.80" fill="#9cc7f6"/>
<rect x="235.47" y="262.98" width="0.90" height="4.62" fill="#9cc7f6"/>
<rect x="135.09" y="261.83" width="0.90" height="5.77" fill="#9cc7f6"/>
<rect x="130.62" y="261.94" width="0.90" height="5.66" fill="#9cc7f6"/>
<rect x="61.20" y="263.21" width="0.90" height="4.39" fill="#9cc7f6"/>
<rect x="292.54" y="266.71" width="0.90" height="0.89" fill="#9cc7f6"/>
<rect x="233.88" y="262.20" width="0.90" height="5.40" fill="#9cc7f6"/>
<rect x="219.17" y="263.25" width="0.90" height="4.35" fill="#9cc7f6"/>
<rect x="214.75" y="262.31" width="0.90" height="5.29" fill="#9cc7f6"/>
<rect x="165.32" y="262.27" width="0.90" height="5.33" fill="#9cc7f6"/>
<rect x="272.87" y="264.45" width="0.90" height="3.15" fill="#9cc7f6"/>
<rect x="64.47" y="263.89" width="0.90" height="3.71" fill="#9cc7f6"/>
<rect x="277.87" y="265.93" width="0.90" height="1.67" fill="#9cc7f6"/>
<rect x="154.74" y="262.60" width="0.90" height="5.00" fill="#9cc7f6"/>
<rect x="87.94" y="262.02" width="0.90" height="5.58" fill="#9cc7f6"/>
<rect x="91.34" y="262.91" width="0.90" height="4.69" fill="#9cc7f6"/>
<rect x="121.41" y="261.48" width="0.90" height="6.12" fill="#9cc7f6"/>
<rect x="219.24" y="263.84" width="0.90" height="3.76" fill="#9cc7f6"/>
<rect x="116.47" y="262.95" width="0.90" height="4.65" fill="#9cc7f6"/>
<rect x="146.98" y="263.09" width="0.90" height="4.51" fill="#9cc7f6"/>
<rect x="191.56" y="260.88" width="0.90" height="6.72" fill="#9cc7f6"/>
<rect x="96.13" y="261.13" width="0.90" height="6.47" fill="#9cc7f6"/>
<rect x="164.22" y="261.50" width="0.90" height="6.10" fill="#9cc7f6"/>
<rect x="84.33" y="262.36" width="0.90" height="5.24" fill="#9cc7f6"/>
<rect x="123.28" y="263.09" width="0.90" height="4.51" fill="#9cc7f6"/>
<rect x="76.89" y="264.39" width="0.90" height="3.21" fill="#9cc7f6"/>
<rect x="164.24" y="262.15" width="0.90" height="5.45" fill="#9cc7f6"/>
<rect x="161.24" y="262.89" width="0.90" height="4.71" fill="#9cc7f6"/>
<rect x="253.17" y="264.35" width="0.90" height="3.25" fill="#9cc7f6"/>
<rect x="164.69" y="262.51" width="0.90" height="5.09" fill="#9cc7f6"/>
<rect x="262.28" y="264.41" width="0.90" height="3.19" fill="#9cc7f6"/>
<rect x="230.28" y="264.42" width="0.90" height="3.18" fill="#9cc7f6"/>
<rect x="161.07" y="261.07" width="0.90" height="6.53" fill="#9cc7f6"/>
<rect x="100.59" y="263.14" width="0.90" height="4.46" fill="#9cc7f6"/>
<rect x="215.14" y="263.66" width="0.90" height="3.94" fill="#9cc7f6"/>
<rect x="261.56" y="263.88" width="0.90" height="3.72" fill="#9cc7f6"/>
<rect x="88.85" y="261.97" width="0.90" height="5.63" fill="#9cc7f6"/>
<rect x="88.22" y="263.32" width="0.90" height="4.28" fill="#9cc7f6"/>
<rect x="262.78" y="265.94" width="0.90" height="1.66" fill="#9cc7f6"/>
<rect x="105.85" y="263.53" width="0.90" height="4.07" fill="#9cc7f6"/>
<rect x="121.04" y="262.06" width="0.90" height="5.54" fill="#9cc7f6"/>
<rect x="229.08" y="261.73" width="0.90" height="5.87" fill="#9cc7f6"/>
<rect x="63.64" y="264.17" width="0.90" height="3.43" fill="#9cc7f6"/>
<rect x="115.41" y="261.91" width="0.90" height="5.69" fill="#9cc7f6"/>
<rect x="190.43" y="262.12" width="0.90" height="5.48" fill="#9cc7f6"/>
<rect x="41.34" y="265.46" width="0.90" height="2.14" fill="#9cc7f6"/>
<rect x="152.97" y="261.92" width="0.90" height="5.68" fill="#9cc7f6"/>
<rect x="94.18" y="262.85" width="0.90" height="4.75" fill="#9cc7f6"/>
<rect x="287.94" y="266.30" width="0.90" height="1.30" fill="#9cc7f6"/>
<rect x="181.08" y="260.54" width="0.90" height="7.06" fill="#9cc7f6"/>
<rect x="110.99" y="262.88" width="0.90" height="4.72" fill="#9cc7f6"/>
<rect x="68.81" y="264.23" width="0.90" height="3.37" fill="#9cc7f6"/>
<rect x="275.83" y="264.51" width="0.90" height="3.09" fill="#9cc7f6"/>
<rect x="284.28" y="265.98" width="0.90" height="1.62" fill="#9cc7f6"/>
<rect x="240.38" y="264.31" width="0.90" height="3.29" fill="#9cc7f6"/>
<rect x="116.39" y="262.86" width="0.90" height="4.74" fill="#9cc7f6"/>
<rect x="209.61" y="262.92" width="0.90" height="4.68" fill="#9cc7f6"/>
<rect x="108.60" y="263.17" width="0.90" height="4.43" fill="#9cc7f6"/>
<rect x="289.49" y="267.26" width="0.90" height="0.34" fill="#9cc7f6"/>
<rect x="178.95" y="260.55" width="0.90" height="7.05" fill="#9cc7f6"/>
<rect x="167.96" y="261.37" width="0.90" height="6.23" fill="#9cc7f6"/>
<rect x="226.25" y="263.37" width="0.90" height="4.23" fill="#9cc7f6"/>
<rect x="186.81" y="260.67" width="0.90" height="6.93" fill="#9cc7f6"/>
<rect x="207.42" y="262.29" width="0.90" height="5.31" fill="#9cc7f6"/>
<rect x="86.12" y="263.92" width="0.90" height="3.68" fill="#9cc7f6"/>
<rect x="209.95" y="260.89" width="0.90" height="6.71" fill="#9cc7f6"/>
<rect x="281.83" y="265.10" width="0.90" height="2.50" fill="#9cc7f6"/>
<rect x="125.75" y="262.90" width="0.90" height="4.70" fill="#9cc7f6"/>
<rect x="194.88" y="261.71" width="0.90" height="5.89" fill="#9cc7f6"/>
<rect x="207.90" y="261.79" width="0.90" height="5.81" fill="#9cc7f6"/>
<rect x="120.79" y="261.32" width="0.90" height="6.28" fill="#9cc7f6"/>
<rect x="57.39" y="263.93" width="0.90" height="3.67" fill="#9cc7f6"/>
<rect x="235.71" y="263.44" width="0.90" height="4.16" fill="#9cc7f6"/>
<rect x="231.86" y="262.69" width="0.90" height="4.91" fill="#9cc7f6"/>
<rect x="108.67" y="262.06" width="0.90" height="5.54" fill="#9cc7f6"/>
<rect x="266.41" y="263.64" width="0.90" height="3.96" fill="#9cc7f6"/>
<rect x="170.78" y="261.03" width="0.90" height="6.57" fill="#9cc7f6"/>
<rect x="239.46" y="263.06" width="0.90" height="4.54" fill="#9cc7f6"/>
<rect x="126.09" y="261.94" width="0.90" height="5.66" fill="#9cc7f6"/>
<rect x="32.5" y="266.60" width="13" height="1.2" fill="#4a96ee"/>
<rect x="45.5" y="265.60" width="245" height="2.2" fill="#4a96ee"/>
<rect x="290" y="266.60" width="62" height="1.2" fill="#4a96ee"/>
<rect x="46.52" y="391.40" width="1.15" height="9.60" fill="#6aeb4e"/>
<rect x="52.62" y="354.40" width="1.15" height="46.60" fill="#6aeb4e"/>
<rect x="58.92" y="355.50" width="1.15" height="45.50" fill="#6aeb4e"/>
<rect x="65.12" y="361.60" width="1.15" height="39.40" fill="#6aeb4e"/>
<rect x="71.83" y="375.90" width="1.15" height="25.10" fill="#6aeb4e"/>
<rect x="78.02" y="385.90" width="1.15" height="15.10" fill="#6aeb4e"/>
<rect x="83.83" y="393.50" width="1.15" height="7.50" fill="#6aeb4e"/>
<rect x="89.92" y="388.70" width="1.15" height="12.30" fill="#6aeb4e"/>
<rect x="96.22" y="383.10" width="1.15" height="17.90" fill="#6aeb4e"/>
<rect x="102.62" y="379.10" width="1.15" height="21.90" fill="#6aeb4e"/>
<rect x="108.92" y="379.90" width="1.15" height="21.10" fill="#6aeb4e"/>
<rect x="115.33" y="376.70" width="1.15" height="24.30" fill="#6aeb4e"/>
<rect x="121.62" y="374.90" width="1.15" height="26.10" fill="#6aeb4e"/>
<rect x="128.23" y="369.10" width="1.15" height="31.90" fill="#6aeb4e"/>
<rect x="134.33" y="356.60" width="1.15" height="44.40" fill="#6aeb4e"/>
<rect x="140.93" y="343.90" width="1.15" height="57.10" fill="#6aeb4e"/>
<rect x="147.03" y="329.90" width="1.15" height="71.10" fill="#6aeb4e"/>
<rect x="153.53" y="320.20" width="1.15" height="80.80" fill="#6aeb4e"/>
<rect x="159.93" y="310.70" width="1.15" height="90.30" fill="#6aeb4e"/>
<rect x="166.53" y="308.50" width="1.15" height="92.50" fill="#6aeb4e"/>
<rect x="173.12" y="315.20" width="1.15" height="85.80" fill="#6aeb4e"/>
<rect x="179.23" y="324.40" width="1.15" height="76.60" fill="#6aeb4e"/>
<rect x="185.53" y="339.70" width="1.15" height="61.30" fill="#6aeb4e"/>
<rect x="192.12" y="350.70" width="1.15" height="50.30" fill="#6aeb4e"/>
<rect x="198.23" y="365.60" width="1.15" height="35.40" fill="#6aeb4e"/>
<rect x="204.73" y="375.40" width="1.15" height="25.60" fill="#6aeb4e"/>
<rect x="210.83" y="384.20" width="1.15" height="16.80" fill="#6aeb4e"/>
<rect x="216.62" y="387.30" width="1.15" height="13.70" fill="#6aeb4e"/>
<rect x="223.03" y="383.40" width="1.15" height="17.60" fill="#6aeb4e"/>
<rect x="229.53" y="382.50" width="1.15" height="18.50" fill="#6aeb4e"/>
<rect x="235.43" y="383.90" width="1.15" height="17.10" fill="#6aeb4e"/>
<rect x="242.03" y="385.90" width="1.15" height="15.10" fill="#6aeb4e"/>
<rect x="248.83" y="387.30" width="1.15" height="13.70" fill="#6aeb4e"/>
<rect x="254.93" y="389.70" width="1.15" height="11.30" fill="#6aeb4e"/>
<rect x="261.23" y="393.10" width="1.15" height="7.90" fill="#6aeb4e"/>
<rect x="267.62" y="396.00" width="1.15" height="5.00" fill="#6aeb4e"/>
<rect x="274.03" y="397.50" width="1.15" height="3.50" fill="#6aeb4e"/>
<rect x="280.43" y="398.50" width="1.15" height="2.50" fill="#6aeb4e"/>
<rect x="286.82" y="399.20" width="1.15" height="1.80" fill="#6aeb4e"/>
<rect x="293.23" y="399.70" width="1.15" height="1.30" fill="#6aeb4e"/>
<rect x="48.92" y="393.80" width="1.15" height="7.20" fill="#6aeb4e"/>
<rect x="55.12" y="381.60" width="1.15" height="19.40" fill="#6aeb4e"/>
<rect x="61.52" y="365.60" width="1.15" height="35.40" fill="#6aeb4e"/>
<rect x="68.02" y="350.10" width="1.15" height="50.90" fill="#6aeb4e"/>
<rect x="74.12" y="340.80" width="1.15" height="60.20" fill="#6aeb4e"/>
<rect x="80.72" y="340.20" width="1.15" height="60.80" fill="#6aeb4e"/>
<rect x="86.72" y="343.40" width="1.15" height="57.60" fill="#6aeb4e"/>
<rect x="93.12" y="345.00" width="1.15" height="56.00" fill="#6aeb4e"/>
<rect x="99.62" y="341.30" width="1.15" height="59.70" fill="#6aeb4e"/>
<rect x="106.02" y="337.80" width="1.15" height="63.20" fill="#6aeb4e"/>
<rect x="112.42" y="326.90" width="1.15" height="74.10" fill="#6aeb4e"/>
<rect x="118.83" y="320.00" width="1.15" height="81.00" fill="#6aeb4e"/>
<rect x="125.33" y="320.00" width="1.15" height="81.00" fill="#6aeb4e"/>
<rect x="132.12" y="319.30" width="1.15" height="81.70" fill="#6aeb4e"/>
<rect x="138.12" y="324.90" width="1.15" height="76.10" fill="#6aeb4e"/>
<rect x="144.62" y="331.80" width="1.15" height="69.20" fill="#6aeb4e"/>
<rect x="150.73" y="345.90" width="1.15" height="55.10" fill="#6aeb4e"/>
<rect x="157.33" y="357.10" width="1.15" height="43.90" fill="#6aeb4e"/>
<rect x="163.73" y="370.60" width="1.15" height="30.40" fill="#6aeb4e"/>
<rect x="169.23" y="379.90" width="1.15" height="21.10" fill="#6aeb4e"/>
<rect x="175.73" y="371.70" width="1.15" height="29.30" fill="#6aeb4e"/>
<rect x="181.83" y="363.60" width="1.15" height="37.40" fill="#6aeb4e"/>
<rect x="188.43" y="356.80" width="1.15" height="44.20" fill="#6aeb4e"/>
<rect x="194.73" y="352.30" width="1.15" height="48.70" fill="#6aeb4e"/>
<rect x="201.23" y="351.90" width="1.15" height="49.10" fill="#6aeb4e"/>
<rect x="207.62" y="353.60" width="1.15" height="47.40" fill="#6aeb4e"/>
<rect x="213.73" y="360.50" width="1.15" height="40.50" fill="#6aeb4e"/>
<rect x="220.23" y="367.60" width="1.15" height="33.40" fill="#6aeb4e"/>
<rect x="226.43" y="374.90" width="1.15" height="26.10" fill="#6aeb4e"/>
<rect x="232.93" y="381.70" width="1.15" height="19.30" fill="#6aeb4e"/>
<rect x="239.12" y="386.80" width="1.15" height="14.20" fill="#6aeb4e"/>
<rect x="245.93" y="391.90" width="1.15" height="9.10" fill="#6aeb4e"/>
<rect x="252.43" y="395.30" width="1.15" height="5.70" fill="#6aeb4e"/>
<rect x="258.62" y="397.80" width="1.15" height="3.20" fill="#6aeb4e"/>
<rect x="265.03" y="398.80" width="1.15" height="2.20" fill="#6aeb4e"/>
<rect x="271.43" y="399.60" width="1.15" height="1.40" fill="#6aeb4e"/>
<rect x="44.75" y="398.71" width="0.90" height="2.29" fill="#6aeb4e"/>
<rect x="48.15" y="399.41" width="0.90" height="1.59" fill="#6aeb4e"/>
<rect x="50.85" y="396.36" width="0.90" height="4.64" fill="#6aeb4e"/>
<rect x="54.25" y="398.64" width="0.90" height="2.36" fill="#6aeb4e"/>
<rect x="57.15" y="393.65" width="0.90" height="7.35" fill="#6aeb4e"/>
<rect x="60.55" y="394.09" width="0.90" height="6.91" fill="#6aeb4e"/>
<rect x="63.35" y="392.96" width="0.90" height="8.04" fill="#6aeb4e"/>
<rect x="66.75" y="392.91" width="0.90" height="8.09" fill="#6aeb4e"/>
<rect x="70.05" y="396.78" width="0.90" height="4.22" fill="#6aeb4e"/>
<rect x="73.45" y="396.34" width="0.90" height="4.66" fill="#6aeb4e"/>
<rect x="76.25" y="392.98" width="0.90" height="8.02" fill="#6aeb4e"/>
<rect x="79.65" y="392.88" width="0.90" height="8.12" fill="#6aeb4e"/>
<rect x="82.05" y="394.16" width="0.90" height="6.84" fill="#6aeb4e"/>
<rect x="85.45" y="395.99" width="0.90" height="5.01" fill="#6aeb4e"/>
<rect x="88.15" y="396.32" width="0.90" height="4.68" fill="#6aeb4e"/>
<rect x="91.55" y="395.79" width="0.90" height="5.21" fill="#6aeb4e"/>
<rect x="94.45" y="394.74" width="0.90" height="6.26" fill="#6aeb4e"/>
<rect x="97.85" y="391.94" width="0.90" height="9.06" fill="#6aeb4e"/>
<rect x="100.85" y="393.29" width="0.90" height="7.71" fill="#6aeb4e"/>
<rect x="104.25" y="391.81" width="0.90" height="9.19" fill="#6aeb4e"/>
<rect x="107.15" y="393.60" width="0.90" height="7.40" fill="#6aeb4e"/>
<rect x="110.55" y="393.59" width="0.90" height="7.41" fill="#6aeb4e"/>
<rect x="113.55" y="391.16" width="0.90" height="9.84" fill="#6aeb4e"/>
<rect x="116.95" y="391.20" width="0.90" height="9.80" fill="#6aeb4e"/>
<rect x="119.85" y="394.17" width="0.90" height="6.83" fill="#6aeb4e"/>
<rect x="123.25" y="389.40" width="0.90" height="11.60" fill="#6aeb4e"/>
<rect x="126.45" y="393.80" width="0.90" height="7.20" fill="#6aeb4e"/>
<rect x="129.85" y="394.07" width="0.90" height="6.93" fill="#6aeb4e"/>
<rect x="132.55" y="394.22" width="0.90" height="6.78" fill="#6aeb4e"/>
<rect x="135.95" y="390.57" width="0.90" height="10.43" fill="#6aeb4e"/>
<rect x="139.15" y="391.35" width="0.90" height="9.65" fill="#6aeb4e"/>
<rect x="142.55" y="391.30" width="0.90" height="9.70" fill="#6aeb4e"/>
<rect x="145.25" y="391.42" width="0.90" height="9.58" fill="#6aeb4e"/>
<rect x="148.65" y="393.26" width="0.90" height="7.74" fill="#6aeb4e"/>
<rect x="151.75" y="391.31" width="0.90" height="9.69" fill="#6aeb4e"/>
<rect x="155.15" y="388.76" width="0.90" height="12.24" fill="#6aeb4e"/>
<rect x="158.15" y="391.92" width="0.90" height="9.08" fill="#6aeb4e"/>
<rect x="161.55" y="389.44" width="0.90" height="11.56" fill="#6aeb4e"/>
<rect x="164.75" y="389.93" width="0.90" height="11.07" fill="#6aeb4e"/>
<rect x="168.15" y="390.45" width="0.90" height="10.55" fill="#6aeb4e"/>
<rect x="171.35" y="386.07" width="0.90" height="14.93" fill="#6aeb4e"/>
<rect x="174.75" y="390.80" width="0.90" height="10.20" fill="#6aeb4e"/>
<rect x="177.45" y="390.23" width="0.90" height="10.77" fill="#6aeb4e"/>
<rect x="180.85" y="389.33" width="0.90" height="11.67" fill="#6aeb4e"/>
<rect x="183.75" y="389.62" width="0.90" height="11.38" fill="#6aeb4e"/>
<rect x="187.15" y="389.35" width="0.90" height="11.65" fill="#6aeb4e"/>
<rect x="190.35" y="387.85" width="0.90" height="13.15" fill="#6aeb4e"/>
<rect x="193.75" y="389.98" width="0.90" height="11.02" fill="#6aeb4e"/>
<rect x="196.45" y="387.12" width="0.90" height="13.88" fill="#6aeb4e"/>
<rect x="199.85" y="390.03" width="0.90" height="10.97" fill="#6aeb4e"/>
<rect x="202.95" y="391.22" width="0.90" height="9.78" fill="#6aeb4e"/>
<rect x="206.35" y="390.35" width="0.90" height="10.65" fill="#6aeb4e"/>
<rect x="209.05" y="391.35" width="0.90" height="9.65" fill="#6aeb4e"/>
<rect x="212.45" y="394.04" width="0.90" height="6.96" fill="#6aeb4e"/>
<rect x="214.85" y="393.88" width="0.90" height="7.12" fill="#6aeb4e"/>
<rect x="218.25" y="389.68" width="0.90" height="11.32" fill="#6aeb4e"/>
<rect x="221.25" y="393.92" width="0.90" height="7.08" fill="#6aeb4e"/>
<rect x="224.65" y="393.25" width="0.90" height="7.75" fill="#6aeb4e"/>
<rect x="227.75" y="390.12" width="0.90" height="10.88" fill="#6aeb4e"/>
<rect x="231.15" y="392.37" width="0.90" height="8.63" fill="#6aeb4e"/>
<rect x="233.65" y="391.95" width="0.90" height="9.05" fill="#6aeb4e"/>
<rect x="237.05" y="391.47" width="0.90" height="9.53" fill="#6aeb4e"/>
<rect x="240.25" y="394.66" width="0.90" height="6.34" fill="#6aeb4e"/>
<rect x="243.65" y="397.46" width="0.90" height="3.54" fill="#6aeb4e"/>
<rect x="247.05" y="394.27" width="0.90" height="6.73" fill="#6aeb4e"/>
<rect x="250.45" y="398.01" width="0.90" height="2.99" fill="#6aeb4e"/>
<rect x="253.15" y="397.31" width="0.90" height="3.69" fill="#6aeb4e"/>
<rect x="256.55" y="394.41" width="0.90" height="6.59" fill="#6aeb4e"/>
<rect x="259.45" y="399.14" width="0.90" height="1.86" fill="#6aeb4e"/>
<rect x="262.85" y="397.85" width="0.90" height="3.15" fill="#6aeb4e"/>
<rect x="265.85" y="400.03" width="0.90" height="0.97" fill="#6aeb4e"/>
<rect x="269.25" y="399.02" width="0.90" height="1.98" fill="#6aeb4e"/>
<rect x="272.25" y="399.39" width="0.90" height="1.61" fill="#6aeb4e"/>
<rect x="275.65" y="397.27" width="0.90" height="3.73" fill="#6aeb4e"/>
<rect x="278.65" y="400.27" width="0.90" height="0.73" fill="#6aeb4e"/>
<rect x="288.45" y="398.79" width="0.90" height="2.21" fill="#6aeb4e"/>
<rect x="294.85" y="399.56" width="0.90" height="1.44" fill="#6aeb4e"/>
<rect x="66.69" y="396.94" width="0.90" height="4.06" fill="#6aeb4e"/>
<rect x="58.36" y="397.41" width="0.90" height="3.59" fill="#6aeb4e"/>
<rect x="80.49" y="397.93" width="0.90" height="3.07" fill="#6aeb4e"/>
<rect x="224.26" y="398.84" width="0.90" height="2.16" fill="#6aeb4e"/>
<rect x="150.25" y="397.64" width="0.90" height="3.36" fill="#6aeb4e"/>
<rect x="118.89" y="397.47" width="0.90" height="3.53" fill="#6aeb4e"/>
<rect x="239.70" y="398.81" width="0.90" height="2.19" fill="#6aeb4e"/>
<rect x="85.77" y="398.89" width="0.90" height="2.11" fill="#6aeb4e"/>
<rect x="229.71" y="398.52" width="0.90" height="2.48" fill="#6aeb4e"/>
<rect x="136.60" y="397.45" width="0.90" height="3.55" fill="#6aeb4e"/>
<rect x="196.81" y="397.50" width="0.90" height="3.50" fill="#6aeb4e"/>
<rect x="38.27" y="399.87" width="0.90" height="1.13" fill="#6aeb4e"/>
<rect x="246.66" y="398.30" width="0.90" height="2.70" fill="#6aeb4e"/>
<rect x="160.37" y="396.70" width="0.90" height="4.30" fill="#6aeb4e"/>
<rect x="93.43" y="396.99" width="0.90" height="4.01" fill="#6aeb4e"/>
<rect x="145.35" y="396.46" width="0.90" height="4.54" fill="#6aeb4e"/>
<rect x="44.89" y="398.25" width="0.90" height="2.75" fill="#6aeb4e"/>
<rect x="82.47" y="397.90" width="0.90" height="3.10" fill="#6aeb4e"/>
<rect x="53.49" y="397.02" width="0.90" height="3.98" fill="#6aeb4e"/>
<rect x="157.17" y="397.17" width="0.90" height="3.83" fill="#6aeb4e"/>
<rect x="225.37" y="397.64" width="0.90" height="3.36" fill="#6aeb4e"/>
<rect x="145.23" y="397.03" width="0.90" height="3.97" fill="#6aeb4e"/>
<rect x="44.67" y="400.43" width="0.90" height="0.57" fill="#6aeb4e"/>
<rect x="96.00" y="396.77" width="0.90" height="4.23" fill="#6aeb4e"/>
<rect x="164.26" y="396.71" width="0.90" height="4.29" fill="#6aeb4e"/>
<rect x="203.74" y="397.95" width="0.90" height="3.05" fill="#6aeb4e"/>
<rect x="70.64" y="396.92" width="0.90" height="4.08" fill="#6aeb4e"/>
<rect x="231.84" y="398.33" width="0.90" height="2.67" fill="#6aeb4e"/>
<rect x="247.90" y="399.13" width="0.90" height="1.87" fill="#6aeb4e"/>
<rect x="286.64" y="400.30" width="0.90" height="0.70" fill="#6aeb4e"/>
<rect x="104.29" y="397.12" width="0.90" height="3.88" fill="#6aeb4e"/>
<rect x="255.07" y="399.80" width="0.90" height="1.20" fill="#6aeb4e"/>
<rect x="129.60" y="396.43" width="0.90" height="4.57" fill="#6aeb4e"/>
<rect x="219.75" y="399.83" width="0.90" height="1.17" fill="#6aeb4e"/>
<rect x="195.68" y="396.93" width="0.90" height="4.07" fill="#6aeb4e"/>
<rect x="45.64" y="398.04" width="0.90" height="2.96" fill="#6aeb4e"/>
<rect x="83.03" y="396.76" width="0.90" height="4.24" fill="#6aeb4e"/>
<rect x="51.95" y="398.61" width="0.90" height="2.39" fill="#6aeb4e"/>
<rect x="277.93" y="399.69" width="0.90" height="1.31" fill="#6aeb4e"/>
<rect x="252.11" y="400.40" width="0.90" height="0.60" fill="#6aeb4e"/>
<rect x="288.55" y="399.72" width="0.90" height="1.28" fill="#6aeb4e"/>
<rect x="118.91" y="397.82" width="0.90" height="3.18" fill="#6aeb4e"/>
<rect x="290.28" y="399.92" width="0.90" height="1.08" fill="#6aeb4e"/>
<rect x="115.90" y="398.46" width="0.90" height="2.54" fill="#6aeb4e"/>
<rect x="32.5" y="400.30" width="275" height="1.2" fill="#4cd82c"/>
<polygon points="43.20,534.60 45.80,528.80 47.40,529.38 49.60,534.60" fill="#fbc566"/>
<polygon points="44.40,534.60 46.20,530.25 48.40,534.60" fill="#f8ae35"/>
<polygon points="49.40,534.60 52.00,525.30 53.60,526.23 55.80,534.60" fill="#fbc566"/>
<polygon points="50.60,534.60 52.40,527.62 54.60,534.60" fill="#f8ae35"/>
<polygon points="55.90,534.60 58.50,524.65 60.10,525.64 62.30,534.60" fill="#fbc566"/>
<polygon points="57.10,534.60 58.90,527.14 61.10,534.60" fill="#f8ae35"/>
<polygon points="62.70,534.60 65.30,522.50 66.90,523.71 69.10,534.60" fill="#fbc566"/>
<polygon points="63.90,534.60 65.70,525.52 67.90,534.60" fill="#f8ae35"/>
<polygon points="69.40,534.60 72.00,520.48 73.60,521.89 75.80,534.60" fill="#fbc566"/>
<polygon points="70.60,534.60 72.40,524.01 74.60,534.60" fill="#f8ae35"/>
<polygon points="76.00,534.60 78.60,519.65 80.20,521.14 82.40,534.60" fill="#fbc566"/>
<polygon points="77.20,534.60 79.00,523.39 81.20,534.60" fill="#f8ae35"/>
<polygon points="82.30,534.60 84.90,519.60 86.50,521.10 88.70,534.60" fill="#fbc566"/>
<polygon points="83.50,534.60 85.30,523.35 87.50,534.60" fill="#f8ae35"/>
<polygon points="90.10,534.60 92.70,519.32 94.30,520.85 96.50,534.60" fill="#fbc566"/>
<polygon points="91.30,534.60 93.10,523.14 95.30,534.60" fill="#f8ae35"/>
<polygon points="96.70,534.60 99.30,519.46 100.90,520.98 103.10,534.60" fill="#fbc566"/>
<polygon points="97.90,534.60 99.70,523.25 101.90,534.60" fill="#f8ae35"/>
<polygon points="103.20,534.60 105.80,521.96 107.40,523.22 109.60,534.60" fill="#fbc566"/>
<polygon points="104.40,534.60 106.20,525.12 108.40,534.60" fill="#f8ae35"/>
<polygon points="109.80,534.60 112.40,524.89 114.00,525.86 116.20,534.60" fill="#fbc566"/>
<polygon points="111.00,534.60 112.80,527.32 115.00,534.60" fill="#f8ae35"/>
<polygon points="115.90,534.60 118.50,525.15 120.10,526.10 122.30,534.60" fill="#fbc566"/>
<polygon points="117.10,534.60 118.90,527.51 121.10,534.60" fill="#f8ae35"/>
<polygon points="122.40,534.60 125.00,524.33 126.60,525.36 128.80,534.60" fill="#fbc566"/>
<polygon points="123.60,534.60 125.40,526.90 127.60,534.60" fill="#f8ae35"/>
<polygon points="129.00,534.60 131.60,522.57 133.20,523.78 135.40,534.60" fill="#fbc566"/>
<polygon points="130.20,534.60 132.00,525.58 134.20,534.60" fill="#f8ae35"/>
<polygon points="135.70,534.60 138.30,520.79 139.90,522.17 142.10,534.60" fill="#fbc566"/>
<polygon points="136.90,534.60 138.70,524.24 140.90,534.60" fill="#f8ae35"/>
<polygon points="142.30,534.60 144.90,519.12 146.50,520.67 148.70,534.60" fill="#fbc566"/>
<polygon points="143.50,534.60 145.30,522.99 147.50,534.60" fill="#f8ae35"/>
<polygon points="148.80,534.60 151.40,517.72 153.00,519.41 155.20,534.60" fill="#fbc566"/>
<polygon points="150.00,534.60 151.80,521.94 154.00,534.60" fill="#f8ae35"/>
<polygon points="155.10,534.60 157.70,519.66 159.30,521.16 161.50,534.60" fill="#fbc566"/>
<polygon points="156.30,534.60 158.10,523.40 160.30,534.60" fill="#f8ae35"/>
<polygon points="161.70,534.60 164.30,521.64 165.90,522.94 168.10,534.60" fill="#fbc566"/>
<polygon points="162.90,534.60 164.70,524.88 166.90,534.60" fill="#f8ae35"/>
<polygon points="167.90,534.60 170.50,522.47 172.10,523.68 174.30,534.60" fill="#fbc566"/>
<polygon points="169.10,534.60 170.90,525.50 173.10,534.60" fill="#f8ae35"/>
<polygon points="174.50,534.60 177.10,523.35 178.70,524.47 180.90,534.60" fill="#fbc566"/>
<polygon points="175.70,534.60 177.50,526.16 179.70,534.60" fill="#f8ae35"/>
<polygon points="181.20,534.60 183.80,532.40 185.40,532.62 187.60,534.60" fill="#fbc566"/>
<polygon points="182.40,534.60 184.20,532.95 186.40,534.60" fill="#f8ae35"/>
<rect x="43.80" y="531.40" width="0.80" height="3.20" fill="#fbc566"/>
<rect x="48.80" y="525.53" width="0.80" height="9.07" fill="#fbc566"/>
<rect x="50.00" y="524.94" width="0.80" height="9.66" fill="#fbc566"/>
<rect x="55.00" y="526.53" width="0.80" height="8.07" fill="#fbc566"/>
<rect x="56.50" y="528.02" width="0.80" height="6.58" fill="#fbc566"/>
<rect x="61.50" y="521.72" width="0.80" height="12.88" fill="#fbc566"/>
<rect x="63.30" y="525.19" width="0.80" height="9.41" fill="#fbc566"/>
<rect x="68.30" y="523.82" width="0.80" height="10.78" fill="#fbc566"/>
<rect x="70.00" y="524.08" width="0.80" height="10.52" fill="#fbc566"/>
<rect x="75.00" y="520.73" width="0.80" height="13.87" fill="#fbc566"/>
<rect x="76.60" y="522.76" width="0.80" height="11.84" fill="#fbc566"/>
<rect x="81.60" y="517.07" width="0.80" height="17.53" fill="#fbc566"/>
<rect x="82.90" y="516.97" width="0.80" height="17.63" fill="#fbc566"/>
<rect x="87.90" y="513.91" width="0.80" height="20.69" fill="#fbc566"/>
<rect x="90.70" y="516.77" width="0.80" height="17.83" fill="#fbc566"/>
<rect x="95.70" y="516.93" width="0.80" height="17.67" fill="#fbc566"/>
<rect x="97.30" y="516.45" width="0.80" height="18.15" fill="#fbc566"/>
<rect x="102.30" y="517.73" width="0.80" height="16.87" fill="#fbc566"/>
<rect x="103.80" y="521.88" width="0.80" height="12.72" fill="#fbc566"/>
<rect x="108.80" y="522.08" width="0.80" height="12.52" fill="#fbc566"/>
<rect x="110.40" y="523.13" width="0.80" height="11.47" fill="#fbc566"/>
<rect x="115.40" y="521.87" width="0.80" height="12.73" fill="#fbc566"/>
<rect x="116.50" y="522.79" width="0.80" height="11.81" fill="#fbc566"/>
<rect x="121.50" y="520.76" width="0.80" height="13.84" fill="#fbc566"/>
<rect x="123.00" y="524.41" width="0.80" height="10.19" fill="#fbc566"/>
<rect x="128.00" y="518.76" width="0.80" height="15.84" fill="#fbc566"/>
<rect x="129.60" y="521.60" width="0.80" height="13.00" fill="#fbc566"/>
<rect x="134.60" y="522.81" width="0.80" height="11.79" fill="#fbc566"/>
<rect x="136.30" y="521.96" width="0.80" height="12.64" fill="#fbc566"/>
<rect x="141.30" y="517.06" width="0.80" height="17.54" fill="#fbc566"/>
<rect x="142.90" y="517.78" width="0.80" height="16.82" fill="#fbc566"/>
<rect x="147.90" y="521.19" width="0.80" height="13.41" fill="#fbc566"/>
<rect x="149.40" y="519.53" width="0.80" height="15.07" fill="#fbc566"/>
<rect x="154.40" y="521.63" width="0.80" height="12.97" fill="#fbc566"/>
<rect x="155.70" y="521.72" width="0.80" height="12.88" fill="#fbc566"/>
<rect x="160.70" y="519.26" width="0.80" height="15.34" fill="#fbc566"/>
<rect x="162.30" y="522.55" width="0.80" height="12.05" fill="#fbc566"/>
<rect x="167.30" y="521.90" width="0.80" height="12.70" fill="#fbc566"/>
<rect x="168.50" y="519.23" width="0.80" height="15.37" fill="#fbc566"/>
<rect x="173.50" y="521.05" width="0.80" height="13.55" fill="#fbc566"/>
<rect x="175.10" y="519.57" width="0.80" height="15.03" fill="#fbc566"/>
<rect x="180.10" y="523.73" width="0.80" height="10.87" fill="#fbc566"/>
<rect x="181.80" y="528.26" width="0.80" height="6.34" fill="#fbc566"/>
<rect x="186.80" y="524.25" width="0.80" height="10.35" fill="#fbc566"/>
<rect x="188.00" y="528.01" width="0.80" height="6.59" fill="#fbc566"/>
<rect x="193.00" y="526.94" width="0.80" height="7.66" fill="#fbc566"/>
<rect x="195.00" y="527.59" width="0.80" height="7.01" fill="#fbc566"/>
<rect x="200.00" y="533.56" width="0.80" height="1.04" fill="#fbc566"/>
<rect x="201.50" y="530.75" width="0.80" height="3.85" fill="#fbc566"/>
<rect x="206.50" y="529.57" width="0.80" height="5.03" fill="#fbc566"/>
<rect x="207.90" y="530.35" width="0.80" height="4.25" fill="#fbc566"/>
<rect x="212.90" y="533.96" width="0.80" height="0.64" fill="#fbc566"/>
<rect x="214.20" y="533.59" width="0.80" height="1.01" fill="#fbc566"/>
<rect x="219.20" y="529.73" width="0.80" height="4.87" fill="#fbc566"/>
<rect x="221.00" y="531.32" width="0.80" height="3.28" fill="#fbc566"/>
<rect x="227.60" y="531.47" width="0.80" height="3.13" fill="#fbc566"/>
<rect x="232.60" y="534.04" width="0.80" height="0.56" fill="#fbc566"/>
<rect x="233.80" y="533.08" width="0.80" height="1.52" fill="#fbc566"/>
<rect x="247.00" y="534.33" width="0.80" height="0.27" fill="#fbc566"/>
<rect x="252.00" y="532.06" width="0.80" height="2.54" fill="#fbc566"/>
<rect x="253.40" y="532.04" width="0.80" height="2.56" fill="#fbc566"/>
<rect x="258.40" y="531.51" width="0.80" height="3.09" fill="#fbc566"/>
<rect x="264.80" y="531.79" width="0.80" height="2.81" fill="#fbc566"/>
<rect x="266.20" y="531.17" width="0.80" height="3.43" fill="#fbc566"/>
<rect x="272.60" y="532.39" width="0.80" height="2.21" fill="#fbc566"/>
<rect x="279.00" y="531.60" width="0.80" height="3.00" fill="#fbc566"/>
<rect x="284.00" y="534.26" width="0.80" height="0.34" fill="#fbc566"/>
<rect x="285.40" y="532.56" width="0.80" height="2.04" fill="#fbc566"/>
<rect x="46.00" y="439.20" width="1.60" height="95.40" fill="#fbc566"/>
<rect x="46.10" y="486.90" width="1.40" height="47.70" fill="#f6a014"/>
<rect x="52.20" y="440.70" width="1.60" height="93.90" fill="#fbc566"/>
<rect x="52.30" y="487.65" width="1.40" height="46.95" fill="#f6a014"/>
<rect x="58.70" y="458.60" width="1.60" height="76.00" fill="#fbc566"/>
<rect x="58.80" y="496.60" width="1.40" height="38.00" fill="#f6a014"/>
<rect x="65.50" y="458.60" width="1.60" height="76.00" fill="#fbc566"/>
<rect x="65.60" y="496.60" width="1.40" height="38.00" fill="#f6a014"/>
<rect x="72.20" y="464.10" width="1.60" height="70.50" fill="#fbc566"/>
<rect x="72.30" y="499.35" width="1.40" height="35.25" fill="#f6a014"/>
<rect x="78.80" y="480.70" width="1.60" height="53.90" fill="#fbc566"/>
<rect x="78.90" y="507.65" width="1.40" height="26.95" fill="#f6a014"/>
<rect x="85.10" y="494.60" width="1.60" height="40.00" fill="#fbc566"/>
<rect x="85.20" y="514.60" width="1.40" height="20.00" fill="#f6a014"/>
<rect x="92.90" y="495.50" width="1.60" height="39.10" fill="#fbc566"/>
<rect x="93.00" y="515.05" width="1.40" height="19.55" fill="#f6a014"/>
<rect x="99.50" y="478.30" width="1.60" height="56.30" fill="#fbc566"/>
<rect x="99.60" y="506.45" width="1.40" height="28.15" fill="#f6a014"/>
<rect x="106.00" y="466.00" width="1.60" height="68.60" fill="#fbc566"/>
<rect x="106.10" y="500.30" width="1.40" height="34.30" fill="#f6a014"/>
<rect x="112.60" y="453.10" width="1.60" height="81.50" fill="#fbc566"/>
<rect x="112.70" y="493.85" width="1.40" height="40.75" fill="#f6a014"/>
<rect x="118.70" y="444.50" width="1.60" height="90.10" fill="#fbc566"/>
<rect x="118.80" y="489.55" width="1.40" height="45.05" fill="#f6a014"/>
<rect x="125.20" y="442.80" width="1.60" height="91.80" fill="#fbc566"/>
<rect x="125.30" y="488.70" width="1.40" height="45.90" fill="#f6a014"/>
<rect x="131.80" y="450.40" width="1.60" height="84.20" fill="#fbc566"/>
<rect x="131.90" y="492.50" width="1.40" height="42.10" fill="#f6a014"/>
<rect x="138.50" y="455.00" width="1.60" height="79.60" fill="#fbc566"/>
<rect x="138.60" y="494.80" width="1.40" height="39.80" fill="#f6a014"/>
<rect x="145.10" y="445.60" width="1.60" height="89.00" fill="#fbc566"/>
<rect x="145.20" y="490.10" width="1.40" height="44.50" fill="#f6a014"/>
<rect x="151.60" y="445.10" width="1.60" height="89.50" fill="#fbc566"/>
<rect x="151.70" y="489.85" width="1.40" height="44.75" fill="#f6a014"/>
<rect x="157.90" y="448.70" width="1.60" height="85.90" fill="#fbc566"/>
<rect x="158.00" y="491.65" width="1.40" height="42.95" fill="#f6a014"/>
<rect x="164.50" y="463.30" width="1.60" height="71.30" fill="#fbc566"/>
<rect x="164.60" y="498.95" width="1.40" height="35.65" fill="#f6a014"/>
<rect x="170.70" y="470.20" width="1.60" height="64.40" fill="#fbc566"/>
<rect x="170.80" y="502.40" width="1.40" height="32.20" fill="#f6a014"/>
<rect x="177.30" y="487.80" width="1.60" height="46.80" fill="#fbc566"/>
<rect x="177.40" y="511.20" width="1.40" height="23.40" fill="#f6a014"/>
<polygon points="182.20,534.60 184.40,513.38 185.20,513.38 187.20,534.60" fill="#fbc566"/>
<polygon points="183.20,534.60 184.80,519.03 186.30,534.60" fill="#f8ae35"/>
<rect x="184.00" y="506.30" width="1.60" height="28.30" fill="#fbc566"/>
<rect x="184.10" y="520.45" width="1.40" height="14.15" fill="#f6a014"/>
<polygon points="188.40,534.60 190.60,516.52 191.40,516.52 193.40,534.60" fill="#fbc566"/>
<polygon points="189.40,534.60 191.00,521.35 192.50,534.60" fill="#f8ae35"/>
<rect x="190.20" y="510.50" width="1.60" height="24.10" fill="#fbc566"/>
<rect x="190.30" y="522.55" width="1.40" height="12.05" fill="#f6a014"/>
<polygon points="195.40,534.60 197.60,521.55 198.40,521.55 200.40,534.60" fill="#fbc566"/>
<polygon points="196.40,534.60 198.00,525.03 199.50,534.60" fill="#f8ae35"/>
<rect x="197.20" y="517.20" width="1.60" height="17.40" fill="#fbc566"/>
<rect x="197.30" y="525.90" width="1.40" height="8.70" fill="#f6a014"/>
<polygon points="201.90,534.60 204.10,523.80 204.90,523.80 206.90,534.60" fill="#fbc566"/>
<polygon points="202.90,534.60 204.50,526.68 206.00,534.60" fill="#f8ae35"/>
<rect x="203.70" y="520.20" width="1.60" height="14.40" fill="#fbc566"/>
<rect x="203.80" y="527.40" width="1.40" height="7.20" fill="#f6a014"/>
<polygon points="208.30,534.60 210.50,525.83 211.30,525.83 213.30,534.60" fill="#fbc566"/>
<polygon points="209.30,534.60 210.90,528.16 212.40,534.60" fill="#f8ae35"/>
<rect x="210.10" y="522.90" width="1.60" height="11.70" fill="#fbc566"/>
<rect x="210.20" y="528.75" width="1.40" height="5.85" fill="#f6a014"/>
<polygon points="214.60,534.60 216.80,528.38 217.60,528.38 219.60,534.60" fill="#fbc566"/>
<polygon points="215.60,534.60 217.20,530.03 218.70,534.60" fill="#f8ae35"/>
<rect x="216.40" y="526.30" width="1.60" height="8.30" fill="#fbc566"/>
<rect x="216.50" y="530.45" width="1.40" height="4.15" fill="#f6a014"/>
<polygon points="221.40,534.60 223.60,529.65 224.40,529.65 226.40,534.60" fill="#fbc566"/>
<polygon points="222.40,534.60 224.00,530.97 225.50,534.60" fill="#f8ae35"/>
<rect x="223.20" y="528.00" width="1.60" height="6.60" fill="#fbc566"/>
<rect x="223.30" y="531.30" width="1.40" height="3.30" fill="#f6a014"/>
<polygon points="228.00,534.60 230.20,530.62 231.00,530.62 233.00,534.60" fill="#fbc566"/>
<polygon points="229.00,534.60 230.60,531.68 232.10,534.60" fill="#f8ae35"/>
<rect x="229.80" y="529.30" width="1.60" height="5.30" fill="#fbc566"/>
<rect x="229.90" y="531.95" width="1.40" height="2.65" fill="#f6a014"/>
<polygon points="234.20,534.60 236.40,531.30 237.20,531.30 239.20,534.60" fill="#fbc566"/>
<polygon points="235.20,534.60 236.80,532.18 238.30,534.60" fill="#f8ae35"/>
<rect x="236.00" y="530.20" width="1.60" height="4.40" fill="#fbc566"/>
<rect x="236.10" y="532.40" width="1.40" height="2.20" fill="#f6a014"/>
<polygon points="240.90,534.60 243.10,531.75 243.90,531.75 245.90,534.60" fill="#fbc566"/>
<polygon points="241.90,534.60 243.50,532.51 245.00,534.60" fill="#f8ae35"/>
<rect x="242.70" y="530.80" width="1.60" height="3.80" fill="#fbc566"/>
<rect x="242.80" y="532.70" width="1.40" height="1.90" fill="#f6a014"/>
<polygon points="247.40,534.60 249.60,532.05 250.40,532.05 252.40,534.60" fill="#fbc566"/>
<polygon points="248.40,534.60 250.00,532.73 251.50,534.60" fill="#f8ae35"/>
<rect x="249.20" y="531.20" width="1.60" height="3.40" fill="#fbc566"/>
<rect x="249.30" y="532.90" width="1.40" height="1.70" fill="#f6a014"/>
<polygon points="253.80,534.60 256.00,532.35 256.80,532.35 258.80,534.60" fill="#fbc566"/>
<polygon points="254.80,534.60 256.40,532.95 257.90,534.60" fill="#f8ae35"/>
<rect x="255.60" y="531.60" width="1.60" height="3.00" fill="#fbc566"/>
<rect x="255.70" y="533.10" width="1.40" height="1.50" fill="#f6a014"/>
<polygon points="260.20,534.60 262.40,532.65 263.20,532.65 265.20,534.60" fill="#fbc566"/>
<polygon points="261.20,534.60 262.80,533.17 264.30,534.60" fill="#f8ae35"/>
<rect x="262.00" y="532.00" width="1.60" height="2.60" fill="#fbc566"/>
<rect x="262.10" y="533.30" width="1.40" height="1.30" fill="#f6a014"/>
<polygon points="266.60,534.60 268.80,532.88 269.60,532.88 271.60,534.60" fill="#fbc566"/>
<polygon points="267.60,534.60 269.20,533.34 270.70,534.60" fill="#f8ae35"/>
<rect x="268.40" y="532.30" width="1.60" height="2.30" fill="#fbc566"/>
<rect x="268.50" y="533.45" width="1.40" height="1.15" fill="#f6a014"/>
<polygon points="273.00,534.60 275.20,533.10 276.00,533.10 278.00,534.60" fill="#fbc566"/>
<polygon points="274.00,534.60 275.60,533.50 277.10,534.60" fill="#f8ae35"/>
<rect x="274.80" y="532.60" width="1.60" height="2.00" fill="#fbc566"/>
<rect x="274.90" y="533.60" width="1.40" height="1.00" fill="#f6a014"/>
<polygon points="279.40,534.60 281.60,533.25 282.40,533.25 284.40,534.60" fill="#fbc566"/>
<polygon points="280.40,534.60 282.00,533.61 283.50,534.60" fill="#f8ae35"/>
<rect x="281.20" y="532.80" width="1.60" height="1.80" fill="#fbc566"/>
<rect x="281.30" y="533.70" width="1.40" height="0.90" fill="#f6a014"/>
<polygon points="285.80,534.60 288.00,533.40 288.80,533.40 290.80,534.60" fill="#fbc566"/>
<polygon points="286.80,534.60 288.40,533.72 289.90,534.60" fill="#f8ae35"/>
<rect x="287.60" y="533.00" width="1.60" height="1.60" fill="#fbc566"/>
<rect x="287.70" y="533.80" width="1.40" height="0.80" fill="#f6a014"/>
<polygon points="292.20,534.60 294.40,533.55 295.20,533.55 297.20,534.60" fill="#fbc566"/>
<polygon points="293.20,534.60 294.80,533.83 296.30,534.60" fill="#f8ae35"/>
<rect x="294.00" y="533.20" width="1.60" height="1.40" fill="#fbc566"/>
<rect x="294.10" y="533.90" width="1.40" height="0.70" fill="#f6a014"/>
<rect x="259.98" y="534.12" width="0.70" height="0.48" fill="#f8ae35"/>
<rect x="138.70" y="530.55" width="0.70" height="4.05" fill="#f8ae35"/>
<rect x="167.76" y="526.04" width="0.70" height="8.56" fill="#f8ae35"/>
<rect x="281.58" y="533.42" width="0.70" height="1.18" fill="#f8ae35"/>
<rect x="275.57" y="532.21" width="0.70" height="2.39" fill="#f8ae35"/>
<rect x="195.09" y="530.58" width="0.70" height="4.02" fill="#f8ae35"/>
<rect x="250.23" y="531.08" width="0.70" height="3.52" fill="#f8ae35"/>
<rect x="138.73" y="529.38" width="0.70" height="5.22" fill="#f8ae35"/>
<rect x="58.54" y="530.71" width="0.70" height="3.89" fill="#f8ae35"/>
<rect x="252.36" y="532.35" width="0.70" height="2.25" fill="#f8ae35"/>
<rect x="226.99" y="532.53" width="0.70" height="2.07" fill="#f8ae35"/>
<rect x="100.19" y="528.07" width="0.70" height="6.53" fill="#f8ae35"/>
<rect x="328.41" y="533.52" width="0.70" height="1.08" fill="#f8ae35"/>
<rect x="163.45" y="525.56" width="0.70" height="9.04" fill="#f8ae35"/>
<rect x="101.27" y="526.47" width="0.70" height="8.13" fill="#f8ae35"/>
<rect x="309.48" y="534.03" width="0.70" height="0.57" fill="#f8ae35"/>
<rect x="216.40" y="534.18" width="0.70" height="0.42" fill="#f8ae35"/>
<rect x="194.08" y="530.19" width="0.70" height="4.41" fill="#f8ae35"/>
<rect x="314.93" y="533.61" width="0.70" height="0.99" fill="#f8ae35"/>
<rect x="263.50" y="532.52" width="0.70" height="2.08" fill="#f8ae35"/>
<rect x="122.93" y="534.03" width="0.70" height="0.57" fill="#f8ae35"/>
<rect x="91.55" y="525.35" width="0.70" height="9.25" fill="#f8ae35"/>
<rect x="248.58" y="531.79" width="0.70" height="2.81" fill="#f8ae35"/>
<rect x="189.33" y="531.63" width="0.70" height="2.97" fill="#f8ae35"/>
<rect x="49.49" y="532.65" width="0.70" height="1.95" fill="#f8ae35"/>
<rect x="118.24" y="529.94" width="0.70" height="4.66" fill="#f8ae35"/>
<rect x="138.33" y="531.95" width="0.70" height="2.65" fill="#f8ae35"/>
<rect x="255.71" y="531.94" width="0.70" height="2.66" fill="#f8ae35"/>
<rect x="67.83" y="527.83" width="0.70" height="6.77" fill="#f8ae35"/>
<rect x="157.69" y="525.14" width="0.70" height="9.46" fill="#f8ae35"/>
<rect x="82.39" y="531.90" width="0.70" height="2.70" fill="#f8ae35"/>
<rect x="323.71" y="534.38" width="0.70" height="0.22" fill="#f8ae35"/>
<rect x="146.44" y="525.70" width="0.70" height="8.90" fill="#f8ae35"/>
<rect x="128.74" y="529.74" width="0.70" height="4.86" fill="#f8ae35"/>
<rect x="191.22" y="530.95" width="0.70" height="3.65" fill="#f8ae35"/>
<rect x="142.69" y="533.01" width="0.70" height="1.59" fill="#f8ae35"/>
<rect x="120.92" y="530.19" width="0.70" height="4.41" fill="#f8ae35"/>
<rect x="296.60" y="534.14" width="0.70" height="0.46" fill="#f8ae35"/>
<rect x="124.49" y="528.22" width="0.70" height="6.38" fill="#f8ae35"/>
<rect x="273.20" y="531.64" width="0.70" height="2.96" fill="#f8ae35"/>
<rect x="76.04" y="529.49" width="0.70" height="5.11" fill="#f8ae35"/>
<rect x="194.11" y="528.44" width="0.70" height="6.16" fill="#f8ae35"/>
<rect x="52.33" y="528.50" width="0.70" height="6.10" fill="#f8ae35"/>
<rect x="262.49" y="532.70" width="0.70" height="1.90" fill="#f8ae35"/>
<rect x="323.60" y="534.22" width="0.70" height="0.38" fill="#f8ae35"/>
<rect x="323.59" y="533.00" width="0.70" height="1.60" fill="#f8ae35"/>
<rect x="91.68" y="524.69" width="0.70" height="9.91" fill="#f8ae35"/>
<rect x="163.90" y="527.88" width="0.70" height="6.72" fill="#f8ae35"/>
<rect x="52.62" y="530.99" width="0.70" height="3.61" fill="#f8ae35"/>
<rect x="65.04" y="528.18" width="0.70" height="6.42" fill="#f8ae35"/>
<rect x="109.84" y="532.75" width="0.70" height="1.85" fill="#f8ae35"/>
<rect x="159.77" y="526.93" width="0.70" height="7.67" fill="#f8ae35"/>
<rect x="50.50" y="530.26" width="0.70" height="4.34" fill="#f8ae35"/>
<rect x="220.88" y="532.75" width="0.70" height="1.85" fill="#f8ae35"/>
<rect x="304.12" y="534.18" width="0.70" height="0.42" fill="#f8ae35"/>
<rect x="109.88" y="526.98" width="0.70" height="7.62" fill="#f8ae35"/>
<rect x="259.08" y="533.81" width="0.70" height="0.79" fill="#f8ae35"/>
<rect x="186.23" y="533.14" width="0.70" height="1.46" fill="#f8ae35"/>
<rect x="198.79" y="529.56" width="0.70" height="5.04" fill="#f8ae35"/>
<rect x="86.92" y="524.48" width="0.70" height="10.12" fill="#f8ae35"/>
<rect x="225.43" y="534.04" width="0.70" height="0.56" fill="#f8ae35"/>
<rect x="302.25" y="533.44" width="0.70" height="1.16" fill="#f8ae35"/>
<rect x="231.97" y="534.24" width="0.70" height="0.36" fill="#f8ae35"/>
<rect x="275.34" y="533.36" width="0.70" height="1.24" fill="#f8ae35"/>
<rect x="158.66" y="529.45" width="0.70" height="5.15" fill="#f8ae35"/>
<rect x="87.52" y="525.97" width="0.70" height="8.63" fill="#f8ae35"/>
<rect x="197.39" y="530.32" width="0.70" height="4.28" fill="#f8ae35"/>
<rect x="140.41" y="528.99" width="0.70" height="5.61" fill="#f8ae35"/>
<rect x="272.11" y="532.84" width="0.70" height="1.76" fill="#f8ae35"/>
<rect x="317.75" y="533.07" width="0.70" height="1.53" fill="#f8ae35"/>
<rect x="129.60" y="530.21" width="0.70" height="4.39" fill="#f8ae35"/>
<rect x="157.92" y="532.97" width="0.70" height="1.63" fill="#f8ae35"/>
<rect x="279.31" y="534.39" width="0.70" height="0.21" fill="#f8ae35"/>
<rect x="216.49" y="529.17" width="0.70" height="5.43" fill="#f8ae35"/>
<rect x="205.41" y="531.59" width="0.70" height="3.01" fill="#f8ae35"/>
<rect x="180.03" y="528.15" width="0.70" height="6.45" fill="#f8ae35"/>
<rect x="244.79" y="534.22" width="0.70" height="0.38" fill="#f8ae35"/>
<rect x="67.57" y="531.32" width="0.70" height="3.28" fill="#f8ae35"/>
<rect x="146.07" y="529.29" width="0.70" height="5.31" fill="#f8ae35"/>
<rect x="225.57" y="530.44" width="0.70" height="4.16" fill="#f8ae35"/>
<rect x="306.50" y="532.93" width="0.70" height="1.67" fill="#f8ae35"/>
<rect x="149.57" y="532.62" width="0.70" height="1.98" fill="#f8ae35"/>
<rect x="129.98" y="528.02" width="0.70" height="6.58" fill="#f8ae35"/>
<rect x="130.33" y="529.03" width="0.70" height="5.57" fill="#f8ae35"/>
<rect x="119.98" y="527.79" width="0.70" height="6.81" fill="#f8ae35"/>
<rect x="60.79" y="527.88" width="0.70" height="6.72" fill="#f8ae35"/>
<rect x="96.05" y="525.42" width="0.70" height="9.18" fill="#f8ae35"/>
<rect x="191.31" y="532.53" width="0.70" height="2.07" fill="#f8ae35"/>
<rect x="282.43" y="533.54" width="0.70" height="1.06" fill="#f8ae35"/>
<rect x="276.45" y="531.74" width="0.70" height="2.86" fill="#f8ae35"/>
<rect x="120.05" y="534.27" width="0.70" height="0.33" fill="#f8ae35"/>
<rect x="57.91" y="528.44" width="0.70" height="6.16" fill="#f8ae35"/>
<rect x="178.64" y="527.97" width="0.70" height="6.63" fill="#f8ae35"/>
<rect x="197.12" y="527.98" width="0.70" height="6.62" fill="#f8ae35"/>
<rect x="106.55" y="534.18" width="0.70" height="0.42" fill="#f8ae35"/>
<rect x="79.76" y="533.50" width="0.70" height="1.10" fill="#f8ae35"/>
<rect x="234.63" y="532.92" width="0.70" height="1.68" fill="#f8ae35"/>
<rect x="79.18" y="524.49" width="0.70" height="10.11" fill="#f8ae35"/>
<rect x="259.41" y="531.67" width="0.70" height="2.93" fill="#f8ae35"/>
<rect x="93.01" y="532.68" width="0.70" height="1.92" fill="#f8ae35"/>
<rect x="293.10" y="532.37" width="0.70" height="2.23" fill="#f8ae35"/>
<rect x="318.19" y="533.73" width="0.70" height="0.87" fill="#f8ae35"/>
<rect x="149.31" y="524.94" width="0.70" height="9.66" fill="#f8ae35"/>
<rect x="119.63" y="527.81" width="0.70" height="6.79" fill="#f8ae35"/>
<rect x="80.06" y="525.11" width="0.70" height="9.49" fill="#f8ae35"/>
<rect x="140.56" y="533.70" width="0.70" height="0.90" fill="#f8ae35"/>
<rect x="60.12" y="527.65" width="0.70" height="6.95" fill="#f8ae35"/>
<rect x="323.79" y="533.31" width="0.70" height="1.29" fill="#f8ae35"/>
<rect x="141.13" y="534.07" width="0.70" height="0.53" fill="#f8ae35"/>
<rect x="179.29" y="531.83" width="0.70" height="2.77" fill="#f8ae35"/>
<rect x="129.13" y="526.18" width="0.70" height="8.42" fill="#f8ae35"/>
<rect x="138.50" y="532.01" width="0.70" height="2.59" fill="#f8ae35"/>
<rect x="265.98" y="533.11" width="0.70" height="1.49" fill="#f8ae35"/>
<rect x="173.16" y="530.14" width="0.70" height="4.46" fill="#f8ae35"/>
<rect x="166.80" y="529.89" width="0.70" height="4.71" fill="#f8ae35"/>
<rect x="280.88" y="532.34" width="0.70" height="2.26" fill="#f8ae35"/>
<rect x="211.19" y="534.17" width="0.70" height="0.43" fill="#f8ae35"/>
<rect x="285.37" y="532.41" width="0.70" height="2.19" fill="#f8ae35"/>
<rect x="318.98" y="534.30" width="0.70" height="0.30" fill="#f8ae35"/>
<rect x="86.68" y="526.74" width="0.70" height="7.86" fill="#f8ae35"/>
<rect x="96.74" y="525.24" width="0.70" height="9.36" fill="#f8ae35"/>
<rect x="323.33" y="533.57" width="0.70" height="1.03" fill="#f8ae35"/>
<rect x="292.47" y="532.48" width="0.70" height="2.12" fill="#f8ae35"/>
<rect x="41.72" y="534.29" width="0.70" height="0.31" fill="#f8ae35"/>
<rect x="237.81" y="532.46" width="0.70" height="2.14" fill="#f8ae35"/>
<rect x="261.33" y="531.47" width="0.70" height="3.13" fill="#f8ae35"/>
<rect x="195.44" y="530.43" width="0.70" height="4.17" fill="#f8ae35"/>
<rect x="80.38" y="530.06" width="0.70" height="4.54" fill="#f8ae35"/>
<rect x="132.01" y="529.94" width="0.70" height="4.66" fill="#f8ae35"/>
<rect x="146.71" y="527.22" width="0.70" height="7.38" fill="#f8ae35"/>
<rect x="142.31" y="530.37" width="0.70" height="4.23" fill="#f8ae35"/>
<rect x="289.41" y="534.16" width="0.70" height="0.44" fill="#f8ae35"/>
<rect x="116.42" y="527.47" width="0.70" height="7.13" fill="#f8ae35"/>
<rect x="183.89" y="532.23" width="0.70" height="2.37" fill="#f8ae35"/>
<rect x="137.23" y="531.02" width="0.70" height="3.58" fill="#f8ae35"/>
<rect x="120.11" y="534.32" width="0.70" height="0.28" fill="#f8ae35"/>
<rect x="169.90" y="529.46" width="0.70" height="5.14" fill="#f8ae35"/>
<rect x="192.83" y="533.60" width="0.70" height="1.00" fill="#f8ae35"/>
<rect x="325.72" y="533.79" width="0.70" height="0.81" fill="#f8ae35"/>
<rect x="166.58" y="530.71" width="0.70" height="3.89" fill="#f8ae35"/>
<rect x="57.88" y="529.70" width="0.70" height="4.90" fill="#f8ae35"/>
<rect x="285.11" y="533.97" width="0.70" height="0.63" fill="#f8ae35"/>
<rect x="54.98" y="533.38" width="0.70" height="1.22" fill="#f8ae35"/>
<rect x="149.79" y="534.38" width="0.70" height="0.22" fill="#f8ae35"/>
<rect x="144.70" y="526.35" width="0.70" height="8.25" fill="#f8ae35"/>
<rect x="197.87" y="533.74" width="0.70" height="0.86" fill="#f8ae35"/>
<rect x="163.53" y="533.20" width="0.70" height="1.40" fill="#f8ae35"/>
<rect x="245.37" y="531.97" width="0.70" height="2.63" fill="#f8ae35"/>
<rect x="125.43" y="530.28" width="0.70" height="4.32" fill="#f8ae35"/>
<rect x="154.16" y="527.78" width="0.70" height="6.82" fill="#f8ae35"/>
<rect x="227.95" y="533.94" width="0.70" height="0.66" fill="#f8ae35"/>
<rect x="208.30" y="529.27" width="0.70" height="5.33" fill="#f8ae35"/>
<rect x="101.86" y="528.37" width="0.70" height="6.23" fill="#f8ae35"/>
<rect x="217.14" y="529.72" width="0.70" height="4.88" fill="#f8ae35"/>
<rect x="61.46" y="528.56" width="0.70" height="6.04" fill="#f8ae35"/>
<rect x="120.28" y="527.10" width="0.70" height="7.50" fill="#f8ae35"/>
<rect x="194.98" y="533.99" width="0.70" height="0.61" fill="#f8ae35"/>
<rect x="193.68" y="532.55" width="0.70" height="2.05" fill="#f8ae35"/>
<rect x="279.55" y="534.11" width="0.70" height="0.49" fill="#f8ae35"/>
<rect x="304.26" y="533.41" width="0.70" height="1.19" fill="#f8ae35"/>
<rect x="236.92" y="530.75" width="0.70" height="3.85" fill="#f8ae35"/>
<rect x="294.60" y="533.11" width="0.70" height="1.49" fill="#f8ae35"/>
<rect x="176.45" y="533.54" width="0.70" height="1.06" fill="#f8ae35"/>
<rect x="121.38" y="528.08" width="0.70" height="6.52" fill="#f8ae35"/>
<rect x="278.14" y="533.39" width="0.70" height="1.21" fill="#f8ae35"/>
<rect x="62.42" y="526.19" width="0.70" height="8.41" fill="#f8ae35"/>
<rect x="140.22" y="524.99" width="0.70" height="9.61" fill="#f8ae35"/>
<rect x="280.72" y="532.29" width="0.70" height="2.31" fill="#f8ae35"/>
<rect x="117.71" y="529.56" width="0.70" height="5.04" fill="#f8ae35"/>
<rect x="187.07" y="529.87" width="0.70" height="4.73" fill="#f8ae35"/>
<rect x="221.22" y="532.67" width="0.70" height="1.93" fill="#f8ae35"/>
<rect x="165.02" y="525.76" width="0.70" height="8.84" fill="#f8ae35"/>
<rect x="323.55" y="534.05" width="0.70" height="0.55" fill="#f8ae35"/>
<rect x="62.04" y="529.54" width="0.70" height="5.06" fill="#f8ae35"/>
<rect x="56.92" y="526.72" width="0.70" height="7.88" fill="#f8ae35"/>
<rect x="177.79" y="529.25" width="0.70" height="5.35" fill="#f8ae35"/>
<rect x="298.82" y="534.20" width="0.70" height="0.40" fill="#f8ae35"/>
<rect x="134.47" y="529.00" width="0.70" height="5.60" fill="#f8ae35"/>
<rect x="207.84" y="533.83" width="0.70" height="0.77" fill="#f8ae35"/>
<rect x="96.61" y="528.33" width="0.70" height="6.27" fill="#f8ae35"/>
<rect x="63.48" y="531.24" width="0.70" height="3.36" fill="#f8ae35"/>
<rect x="45.41" y="534.15" width="0.70" height="0.45" fill="#f8ae35"/>
<rect x="190.58" y="531.17" width="0.70" height="3.43" fill="#f8ae35"/>
<rect x="62.55" y="527.74" width="0.70" height="6.86" fill="#f8ae35"/>
<rect x="174.53" y="533.21" width="0.70" height="1.39" fill="#f8ae35"/>
<rect x="195.05" y="529.31" width="0.70" height="5.29" fill="#f8ae35"/>
<rect x="324.42" y="534.01" width="0.70" height="0.59" fill="#f8ae35"/>
<rect x="191.94" y="528.50" width="0.70" height="6.10" fill="#f8ae35"/>
<rect x="124.83" y="533.71" width="0.70" height="0.89" fill="#f8ae35"/>
<rect x="76.46" y="529.48" width="0.70" height="5.12" fill="#f8ae35"/>
<rect x="218.68" y="530.92" width="0.70" height="3.68" fill="#f8ae35"/>
<rect x="262.11" y="534.27" width="0.70" height="0.33" fill="#f8ae35"/>
<rect x="288.05" y="533.89" width="0.70" height="0.71" fill="#f8ae35"/>
<rect x="97.10" y="525.31" width="0.70" height="9.29" fill="#f8ae35"/>
<rect x="164.04" y="527.64" width="0.70" height="6.96" fill="#f8ae35"/>
<rect x="94.27" y="533.21" width="0.70" height="1.39" fill="#f8ae35"/>
<rect x="100.74" y="532.77" width="0.70" height="1.83" fill="#f8ae35"/>
<rect x="311.44" y="532.91" width="0.70" height="1.69" fill="#f8ae35"/>
<rect x="304.41" y="533.32" width="0.70" height="1.28" fill="#f8ae35"/>
<rect x="99.54" y="526.51" width="0.70" height="8.09" fill="#f8ae35"/>
<rect x="48.66" y="530.88" width="0.70" height="3.72" fill="#f8ae35"/>
<rect x="149.87" y="532.88" width="0.70" height="1.72" fill="#f8ae35"/>
<rect x="280.89" y="531.99" width="0.70" height="2.61" fill="#f8ae35"/>
<rect x="154.83" y="527.98" width="0.70" height="6.62" fill="#f8ae35"/>
<rect x="89.52" y="526.70" width="0.70" height="7.90" fill="#f8ae35"/>
<rect x="114.55" y="531.92" width="0.70" height="2.68" fill="#f8ae35"/>
<rect x="136.99" y="526.10" width="0.70" height="8.50" fill="#f8ae35"/>
<rect x="102.01" y="529.05" width="0.70" height="5.55" fill="#f8ae35"/>
<rect x="202.58" y="529.55" width="0.70" height="5.05" fill="#f8ae35"/>
<rect x="241.94" y="531.32" width="0.70" height="3.28" fill="#f8ae35"/>
<rect x="233.53" y="532.72" width="0.70" height="1.88" fill="#f8ae35"/>
<rect x="88.97" y="531.86" width="0.70" height="2.74" fill="#f8ae35"/>
<rect x="152.77" y="529.48" width="0.70" height="5.12" fill="#f8ae35"/>
<rect x="212.20" y="532.27" width="0.70" height="2.33" fill="#f8ae35"/>
<rect x="166.81" y="525.54" width="0.70" height="9.06" fill="#f8ae35"/>
<rect x="267.37" y="534.11" width="0.70" height="0.49" fill="#f8ae35"/>
<rect x="180.78" y="530.77" width="0.70" height="3.83" fill="#f8ae35"/>
<rect x="116.04" y="533.72" width="0.70" height="0.88" fill="#f8ae35"/>
<rect x="237.86" y="531.19" width="0.70" height="3.41" fill="#f8ae35"/>
<rect x="178.72" y="527.24" width="0.70" height="7.36" fill="#f8ae35"/>
<rect x="246.98" y="531.92" width="0.70" height="2.68" fill="#f8ae35"/>
<rect x="251.49" y="532.94" width="0.70" height="1.66" fill="#f8ae35"/>
<rect x="69.08" y="529.88" width="0.70" height="4.72" fill="#f8ae35"/>
<rect x="286.09" y="533.18" width="0.70" height="1.42" fill="#f8ae35"/>
<rect x="195.13" y="533.55" width="0.70" height="1.05" fill="#f8ae35"/>
<rect x="168.07" y="529.53" width="0.70" height="5.07" fill="#f8ae35"/>
<rect x="207.83" y="533.43" width="0.70" height="1.17" fill="#f8ae35"/>
<rect x="96.96" y="525.58" width="0.70" height="9.02" fill="#f8ae35"/>
<rect x="259.92" y="532.96" width="0.70" height="1.64" fill="#f8ae35"/>
<rect x="126.05" y="533.63" width="0.70" height="0.97" fill="#f8ae35"/>
<rect x="295.95" y="533.51" width="0.70" height="1.09" fill="#f8ae35"/>
<rect x="326.27" y="534.32" width="0.70" height="0.28" fill="#f8ae35"/>
<rect x="256.08" y="531.96" width="0.70" height="2.64" fill="#f8ae35"/>
<rect x="40.81" y="533.93" width="0.70" height="0.67" fill="#f8ae35"/>
<rect x="252.30" y="532.08" width="0.70" height="2.52" fill="#f8ae35"/>
<rect x="177.45" y="530.54" width="0.70" height="4.06" fill="#f8ae35"/>
<rect x="110.60" y="531.82" width="0.70" height="2.78" fill="#f8ae35"/>
<rect x="201.90" y="530.40" width="0.70" height="4.20" fill="#f8ae35"/>
<rect x="69.65" y="530.10" width="0.70" height="4.50" fill="#f8ae35"/>
<rect x="131.00" y="532.00" width="0.70" height="2.60" fill="#f8ae35"/>
<rect x="88.03" y="528.08" width="0.70" height="6.52" fill="#f8ae35"/>
<rect x="94.95" y="528.44" width="0.70" height="6.16" fill="#f8ae35"/>
<rect x="205.95" y="528.92" width="0.70" height="5.68" fill="#f8ae35"/>
<rect x="53.65" y="530.44" width="0.70" height="4.16" fill="#f8ae35"/>
<rect x="96.50" y="529.45" width="0.70" height="5.15" fill="#f8ae35"/>
<rect x="86.47" y="525.16" width="0.70" height="9.44" fill="#f8ae35"/>
<rect x="194.60" y="534.00" width="0.70" height="0.60" fill="#f8ae35"/>
<rect x="291.26" y="533.37" width="0.70" height="1.23" fill="#f8ae35"/>
<rect x="153.66" y="524.79" width="0.70" height="9.81" fill="#f8ae35"/>
<rect x="118.35" y="529.03" width="0.70" height="5.57" fill="#f8ae35"/>
<rect x="312.58" y="532.92" width="0.70" height="1.68" fill="#f8ae35"/>
<rect x="314.46" y="533.59" width="0.70" height="1.01" fill="#f8ae35"/>
<rect x="164.39" y="527.19" width="0.70" height="7.41" fill="#f8ae35"/>
<rect x="318.71" y="533.14" width="0.70" height="1.46" fill="#f8ae35"/>
<rect x="204.48" y="531.31" width="0.70" height="3.29" fill="#f8ae35"/>
<rect x="95.91" y="526.69" width="0.70" height="7.91" fill="#f8ae35"/>
<rect x="325.39" y="534.23" width="0.70" height="0.37" fill="#f8ae35"/>
<rect x="251.82" y="534.21" width="0.70" height="0.39" fill="#f8ae35"/>
<rect x="66.43" y="531.70" width="0.70" height="2.90" fill="#f8ae35"/>
<rect x="256.80" y="531.76" width="0.70" height="2.84" fill="#f8ae35"/>
<rect x="171.11" y="534.34" width="0.70" height="0.26" fill="#f8ae35"/>
<rect x="133.07" y="532.29" width="0.70" height="2.31" fill="#f8ae35"/>
<rect x="85.91" y="530.90" width="0.70" height="3.70" fill="#f8ae35"/>
<rect x="116.33" y="530.44" width="0.70" height="4.16" fill="#f8ae35"/>
<rect x="146.38" y="533.14" width="0.70" height="1.46" fill="#f8ae35"/>
<rect x="255.15" y="532.70" width="0.70" height="1.90" fill="#f8ae35"/>
<rect x="238.32" y="532.06" width="0.70" height="2.54" fill="#f8ae35"/>
<rect x="272.50" y="532.27" width="0.70" height="2.33" fill="#f8ae35"/>
<rect x="196.54" y="531.53" width="0.70" height="3.07" fill="#f8ae35"/>
<rect x="150.97" y="524.45" width="0.70" height="10.15" fill="#f8ae35"/>
<rect x="87.28" y="530.64" width="0.70" height="3.96" fill="#f8ae35"/>
<rect x="99.36" y="532.08" width="0.70" height="2.52" fill="#f8ae35"/>
<rect x="185.08" y="534.19" width="0.70" height="0.41" fill="#f8ae35"/>
<rect x="285.22" y="533.84" width="0.70" height="0.76" fill="#f8ae35"/>
<rect x="146.42" y="524.65" width="0.70" height="9.95" fill="#f8ae35"/>
<rect x="200.19" y="532.79" width="0.70" height="1.81" fill="#f8ae35"/>
<rect x="306.60" y="532.97" width="0.70" height="1.63" fill="#f8ae35"/>
<rect x="83.92" y="534.38" width="0.70" height="0.22" fill="#f8ae35"/>
<rect x="253.57" y="532.60" width="0.70" height="2.00" fill="#f8ae35"/>
<rect x="253.29" y="531.40" width="0.70" height="3.20" fill="#f8ae35"/>
<rect x="196.51" y="532.13" width="0.70" height="2.47" fill="#f8ae35"/>
<rect x="213.95" y="529.66" width="0.70" height="4.94" fill="#f8ae35"/>
<rect x="77.59" y="530.42" width="0.70" height="4.18" fill="#f8ae35"/>
<rect x="32.5" y="533.50" width="12" height="1.5" fill="#f7aa2c"/>
<rect x="44.5" y="532.60" width="256" height="2.4" fill="#f7aa2c"/>
<rect x="300" y="533.50" width="52" height="1.5" fill="#f7aa2c"/>
</g>
<g>
<text x="90.6" y="557.5" font-size="15" text-anchor="middle">1000</text>
<text x="163.2" y="557.5" font-size="15" text-anchor="middle">1500</text>
<text x="235.8" y="557.5" font-size="15" text-anchor="middle">2000</text>
<text x="308.4" y="557.5" font-size="15" text-anchor="middle">2500</text>
<text x="192.6" y="577.2" font-size="16" text-anchor="middle">m/z</text>
<text x="340.5" y="22.9" font-size="15.4" text-anchor="end">PS80</text>
<text x="340.5" y="156.9" font-size="15.4" text-anchor="end">PS60</text>
<text x="340.5" y="288.9" font-size="15.4" text-anchor="end">PS40</text>
<text x="340.5" y="423.5" font-size="15.4" text-anchor="end">PS20</text>
<text x="156.0" y="42.5" font-size="14.2" text-anchor="start">h + m + d + t</text>
<text x="70.6" y="106.2" font-size="14.5" text-anchor="start">i</text>
<text x="226.3" y="114.2" font-size="14.5" text-anchor="start">p</text>
<text x="68.0" y="212.1" font-size="14.5" text-anchor="start">i</text>
<text x="116.6" y="171.9" font-size="14.5" text-anchor="start">h</text>
<text x="155.8" y="180.2" font-size="14.5" text-anchor="start">m</text>
<text x="199.5" y="215.1" font-size="14.2" text-anchor="start">d + t</text>
<text x="75.5" y="335.1" font-size="14.5" text-anchor="start">i</text>
<text x="123.1" y="313.7" font-size="14.5" text-anchor="start">h</text>
<text x="163.4" y="302.3" font-size="14.5" text-anchor="start">m</text>
<text x="199.5" y="345.0" font-size="14.5" text-anchor="start">d</text>
<text x="233.2" y="375.8" font-size="14.5" text-anchor="start">t</text>
<text x="64.6" y="450.0" font-size="14.5" text-anchor="start">i</text>
<text x="122.8" y="436.5" font-size="14.5" text-anchor="start">h</text>
<text x="149.0" y="438.2" font-size="14.5" text-anchor="start">m</text>
<text x="180.8" y="507.1" font-size="14.2" text-anchor="start">d + t</text>
<text transform="translate(12.4 268.3) rotate(-90)" font-size="16.4" text-anchor="middle">Intensity [a.u.]</text>
</g>
</svg>
</body></html>
